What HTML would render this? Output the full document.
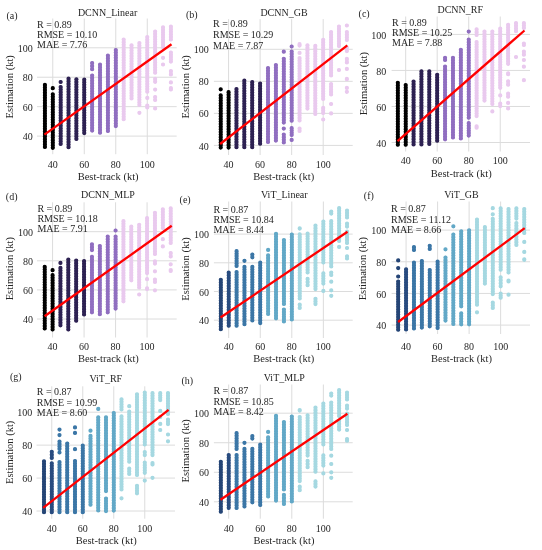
<!DOCTYPE html>
<html><head><meta charset="utf-8"><style>
html,body{margin:0;padding:0;background:#fff;}
svg{display:block;}
text{font-family:"Liberation Serif",serif;font-size:10px;}
</style></head><body>
<svg width="542" height="550" viewBox="0 0 542 550">
<defs><filter id="nolcd" x="0" y="0" width="542" height="550" filterUnits="userSpaceOnUse"><feOffset dx="0" dy="0"/></filter></defs>
<rect width="542" height="550" fill="#fff"/>
<path d="M52.77 18.5V154.2M84.28 18.5V154.2M115.78 18.5V154.2M147.28 18.5V154.2M37 136.1H176.7M37 106.67H176.7M37 77.23H176.7M37 47.8H176.7" stroke="#dcdcdc" stroke-width="1" fill="none"/>
<path d="M44.9 84.9V146.9" stroke="#000000" stroke-width="3.3" stroke-linecap="round" fill="none"/>
<path d="M44.9 84.9v0M44.9 87.48v0M44.9 90.07v0M44.9 92.65v0M44.9 95.23v0M44.9 97.82v0M44.9 100.4v0M44.9 102.98v0M44.9 105.57v0M44.9 108.15v0M44.9 110.73v0M44.9 113.32v0M44.9 115.9v0M44.9 118.48v0M44.9 121.07v0M44.9 123.65v0M44.9 126.23v0M44.9 128.82v0M44.9 131.4v0M44.9 133.98v0M44.9 136.57v0M44.9 139.15v0M44.9 141.73v0M44.9 144.32v0M44.9 146.9v0" stroke="#000000" stroke-width="4.2" stroke-linecap="round" fill="none"/>
<path d="M52.77 88.2V88.21M52.77 94.3V147.8" stroke="#000000" stroke-width="3.3" stroke-linecap="round" fill="none"/>
<path d="M52.77 88.2v0M52.77 88.2v0M52.77 94.3v0M52.77 96.85v0M52.77 99.4v0M52.77 101.94v0M52.77 104.49v0M52.77 107.04v0M52.77 109.59v0M52.77 112.13v0M52.77 114.68v0M52.77 117.23v0M52.77 119.78v0M52.77 122.32v0M52.77 124.87v0M52.77 127.42v0M52.77 129.97v0M52.77 132.51v0M52.77 135.06v0M52.77 137.61v0M52.77 140.16v0M52.77 142.7v0M52.77 145.25v0M52.77 147.8v0" stroke="#000000" stroke-width="4.2" stroke-linecap="round" fill="none"/>
<path d="M60.65 82V82.01M60.65 87V143.9" stroke="#2d2152" stroke-width="3.3" stroke-linecap="round" fill="none"/>
<path d="M60.65 82v0M60.65 82v0M60.65 87v0M60.65 89.59v0M60.65 92.17v0M60.65 94.76v0M60.65 97.35v0M60.65 99.93v0M60.65 102.52v0M60.65 105.1v0M60.65 107.69v0M60.65 110.28v0M60.65 112.86v0M60.65 115.45v0M60.65 118.04v0M60.65 120.62v0M60.65 123.21v0M60.65 125.8v0M60.65 128.38v0M60.65 130.97v0M60.65 133.55v0M60.65 136.14v0M60.65 138.73v0M60.65 141.31v0M60.65 143.9v0" stroke="#2d2152" stroke-width="4.2" stroke-linecap="round" fill="none"/>
<path d="M68.53 78.7V147.2" stroke="#2d2152" stroke-width="3.3" stroke-linecap="round" fill="none"/>
<path d="M68.53 78.7v0M68.53 81.33v0M68.53 83.97v0M68.53 86.6v0M68.53 89.24v0M68.53 91.87v0M68.53 94.51v0M68.53 97.14v0M68.53 99.78v0M68.53 102.41v0M68.53 105.05v0M68.53 107.68v0M68.53 110.32v0M68.53 112.95v0M68.53 115.58v0M68.53 118.22v0M68.53 120.85v0M68.53 123.49v0M68.53 126.12v0M68.53 128.76v0M68.53 131.39v0M68.53 134.03v0M68.53 136.66v0M68.53 139.3v0M68.53 141.93v0M68.53 144.57v0M68.53 147.2v0" stroke="#2d2152" stroke-width="4.2" stroke-linecap="round" fill="none"/>
<path d="M76.4 79.3V138.9" stroke="#2d2152" stroke-width="3.3" stroke-linecap="round" fill="none"/>
<path d="M76.4 79.3v0M76.4 81.89v0M76.4 84.48v0M76.4 87.07v0M76.4 89.67v0M76.4 92.26v0M76.4 94.85v0M76.4 97.44v0M76.4 100.03v0M76.4 102.62v0M76.4 105.21v0M76.4 107.8v0M76.4 110.4v0M76.4 112.99v0M76.4 115.58v0M76.4 118.17v0M76.4 120.76v0M76.4 123.35v0M76.4 125.94v0M76.4 128.53v0M76.4 131.13v0M76.4 133.72v0M76.4 136.31v0M76.4 138.9v0" stroke="#2d2152" stroke-width="4.2" stroke-linecap="round" fill="none"/>
<path d="M84.28 79.7V133.1" stroke="#2d2152" stroke-width="3.3" stroke-linecap="round" fill="none"/>
<path d="M84.28 79.7v0M84.28 82.24v0M84.28 84.79v0M84.28 87.33v0M84.28 89.87v0M84.28 92.41v0M84.28 94.96v0M84.28 97.5v0M84.28 100.04v0M84.28 102.59v0M84.28 105.13v0M84.28 107.67v0M84.28 110.21v0M84.28 112.76v0M84.28 115.3v0M84.28 117.84v0M84.28 120.39v0M84.28 122.93v0M84.28 125.47v0M84.28 128.01v0M84.28 130.56v0M84.28 133.1v0" stroke="#2d2152" stroke-width="4.2" stroke-linecap="round" fill="none"/>
<path d="M92.15 63V69.2M92.15 75.5V130.6" stroke="#906ec0" stroke-width="3.3" stroke-linecap="round" fill="none"/>
<path d="M92.15 63v0M92.15 66.1v0M92.15 69.2v0M92.15 75.5v0M92.15 78.12v0M92.15 80.75v0M92.15 83.37v0M92.15 86v0M92.15 88.62v0M92.15 91.24v0M92.15 93.87v0M92.15 96.49v0M92.15 99.11v0M92.15 101.74v0M92.15 104.36v0M92.15 106.99v0M92.15 109.61v0M92.15 112.23v0M92.15 114.86v0M92.15 117.48v0M92.15 120.1v0M92.15 122.73v0M92.15 125.35v0M92.15 127.98v0M92.15 130.6v0" stroke="#906ec0" stroke-width="4.2" stroke-linecap="round" fill="none"/>
<path d="M100.03 64.7V132.7" stroke="#906ec0" stroke-width="3.3" stroke-linecap="round" fill="none"/>
<path d="M100.03 64.7v0M100.03 67.32v0M100.03 69.93v0M100.03 72.55v0M100.03 75.16v0M100.03 77.78v0M100.03 80.39v0M100.03 83.01v0M100.03 85.62v0M100.03 88.24v0M100.03 90.85v0M100.03 93.47v0M100.03 96.08v0M100.03 98.7v0M100.03 101.32v0M100.03 103.93v0M100.03 106.55v0M100.03 109.16v0M100.03 111.78v0M100.03 114.39v0M100.03 117.01v0M100.03 119.62v0M100.03 122.24v0M100.03 124.85v0M100.03 127.47v0M100.03 130.08v0M100.03 132.7v0" stroke="#906ec0" stroke-width="4.2" stroke-linecap="round" fill="none"/>
<path d="M107.9 55.7V131" stroke="#906ec0" stroke-width="3.3" stroke-linecap="round" fill="none"/>
<path d="M107.9 55.7v0M107.9 58.3v0M107.9 60.89v0M107.9 63.49v0M107.9 66.09v0M107.9 68.68v0M107.9 71.28v0M107.9 73.88v0M107.9 76.47v0M107.9 79.07v0M107.9 81.67v0M107.9 84.26v0M107.9 86.86v0M107.9 89.46v0M107.9 92.05v0M107.9 94.65v0M107.9 97.24v0M107.9 99.84v0M107.9 102.44v0M107.9 105.03v0M107.9 107.63v0M107.9 110.23v0M107.9 112.82v0M107.9 115.42v0M107.9 118.02v0M107.9 120.61v0M107.9 123.21v0M107.9 125.81v0M107.9 128.4v0M107.9 131v0" stroke="#906ec0" stroke-width="4.2" stroke-linecap="round" fill="none"/>
<path d="M115.78 50V126.1" stroke="#906ec0" stroke-width="3.3" stroke-linecap="round" fill="none"/>
<path d="M115.78 50v0M115.78 52.62v0M115.78 55.25v0M115.78 57.87v0M115.78 60.5v0M115.78 63.12v0M115.78 65.74v0M115.78 68.37v0M115.78 70.99v0M115.78 73.62v0M115.78 76.24v0M115.78 78.87v0M115.78 81.49v0M115.78 84.11v0M115.78 86.74v0M115.78 89.36v0M115.78 91.99v0M115.78 94.61v0M115.78 97.23v0M115.78 99.86v0M115.78 102.48v0M115.78 105.11v0M115.78 107.73v0M115.78 110.36v0M115.78 112.98v0M115.78 115.6v0M115.78 118.23v0M115.78 120.85v0M115.78 123.48v0M115.78 126.1v0" stroke="#906ec0" stroke-width="4.2" stroke-linecap="round" fill="none"/>
<path d="M123.65 39.6V119.2" stroke="#e9c9ee" stroke-width="3.3" stroke-linecap="round" fill="none"/>
<path d="M123.65 39.6v0M123.65 42.17v0M123.65 44.74v0M123.65 47.3v0M123.65 49.87v0M123.65 52.44v0M123.65 55.01v0M123.65 57.57v0M123.65 60.14v0M123.65 62.71v0M123.65 65.28v0M123.65 67.85v0M123.65 70.41v0M123.65 72.98v0M123.65 75.55v0M123.65 78.12v0M123.65 80.68v0M123.65 83.25v0M123.65 85.82v0M123.65 88.39v0M123.65 90.95v0M123.65 93.52v0M123.65 96.09v0M123.65 98.66v0M123.65 101.23v0M123.65 103.79v0M123.65 106.36v0M123.65 108.93v0M123.65 111.5v0M123.65 114.06v0M123.65 116.63v0M123.65 119.2v0" stroke="#e9c9ee" stroke-width="4.2" stroke-linecap="round" fill="none"/>
<path d="M131.53 45.3V98.4" stroke="#e9c9ee" stroke-width="3.3" stroke-linecap="round" fill="none"/>
<path d="M131.53 45.3v0M131.53 47.96v0M131.53 50.61v0M131.53 53.27v0M131.53 55.92v0M131.53 58.58v0M131.53 61.23v0M131.53 63.89v0M131.53 66.54v0M131.53 69.2v0M131.53 71.85v0M131.53 74.51v0M131.53 77.16v0M131.53 79.81v0M131.53 82.47v0M131.53 85.12v0M131.53 87.78v0M131.53 90.44v0M131.53 93.09v0M131.53 95.75v0M131.53 98.4v0" stroke="#e9c9ee" stroke-width="4.2" stroke-linecap="round" fill="none"/>
<path d="M139.4 43.1V105M139.4 112.8V112.81" stroke="#e9c9ee" stroke-width="3.3" stroke-linecap="round" fill="none"/>
<path d="M139.4 43.1v0M139.4 45.68v0M139.4 48.26v0M139.4 50.84v0M139.4 53.42v0M139.4 56v0M139.4 58.58v0M139.4 61.15v0M139.4 63.73v0M139.4 66.31v0M139.4 68.89v0M139.4 71.47v0M139.4 74.05v0M139.4 76.63v0M139.4 79.21v0M139.4 81.79v0M139.4 84.37v0M139.4 86.95v0M139.4 89.53v0M139.4 92.1v0M139.4 94.68v0M139.4 97.26v0M139.4 99.84v0M139.4 102.42v0M139.4 105v0M139.4 112.8v0M139.4 112.8v0" stroke="#e9c9ee" stroke-width="4.2" stroke-linecap="round" fill="none"/>
<path d="M147.28 37.1V91.7M147.28 97.9V97.91M147.28 105.6V107.4" stroke="#e9c9ee" stroke-width="3.3" stroke-linecap="round" fill="none"/>
<path d="M147.28 37.1v0M147.28 39.7v0M147.28 42.3v0M147.28 44.9v0M147.28 47.5v0M147.28 50.1v0M147.28 52.7v0M147.28 55.3v0M147.28 57.9v0M147.28 60.5v0M147.28 63.1v0M147.28 65.7v0M147.28 68.3v0M147.28 70.9v0M147.28 73.5v0M147.28 76.1v0M147.28 78.7v0M147.28 81.3v0M147.28 83.9v0M147.28 86.5v0M147.28 89.1v0M147.28 91.7v0M147.28 97.9v0M147.28 97.9v0M147.28 105.6v0M147.28 107.4v0" stroke="#e9c9ee" stroke-width="4.2" stroke-linecap="round" fill="none"/>
<path d="M155.15 31.5V72.7M155.15 78.9V81.8M155.15 89.6V89.61M155.15 97V100M155.15 108.4V108.41" stroke="#e9c9ee" stroke-width="3.3" stroke-linecap="round" fill="none"/>
<path d="M155.15 31.5v0M155.15 34.08v0M155.15 36.65v0M155.15 39.23v0M155.15 41.8v0M155.15 44.38v0M155.15 46.95v0M155.15 49.53v0M155.15 52.1v0M155.15 54.67v0M155.15 57.25v0M155.15 59.83v0M155.15 62.4v0M155.15 64.97v0M155.15 67.55v0M155.15 70.12v0M155.15 72.7v0M155.15 78.9v0M155.15 81.8v0M155.15 89.6v0M155.15 89.6v0M155.15 97v0M155.15 100v0M155.15 108.4v0M155.15 108.4v0" stroke="#e9c9ee" stroke-width="4.2" stroke-linecap="round" fill="none"/>
<path d="M163.03 27.4V47.2M163.03 57.8V57.81M163.03 64.5V64.51" stroke="#e9c9ee" stroke-width="3.3" stroke-linecap="round" fill="none"/>
<path d="M163.03 27.4v0M163.03 29.88v0M163.03 32.35v0M163.03 34.83v0M163.03 37.3v0M163.03 39.77v0M163.03 42.25v0M163.03 44.72v0M163.03 47.2v0M163.03 57.8v0M163.03 57.8v0M163.03 64.5v0M163.03 64.5v0" stroke="#e9c9ee" stroke-width="4.2" stroke-linecap="round" fill="none"/>
<path d="M170.9 26.7V39.5M170.9 52.5V61.6M170.9 71.1V74.4M170.9 82.4V82.41M170.9 88.2V89.5" stroke="#e9c9ee" stroke-width="3.3" stroke-linecap="round" fill="none"/>
<path d="M170.9 26.7v0M170.9 29.26v0M170.9 31.82v0M170.9 34.38v0M170.9 36.94v0M170.9 39.5v0M170.9 52.5v0M170.9 54.77v0M170.9 57.05v0M170.9 59.33v0M170.9 61.6v0M170.9 71.1v0M170.9 74.4v0M170.9 82.4v0M170.9 82.4v0M170.9 88.2v0M170.9 89.5v0" stroke="#e9c9ee" stroke-width="4.2" stroke-linecap="round" fill="none"/>
<line x1="44.4" y1="134.6" x2="171.5" y2="44.3" stroke="#ff0000" stroke-width="2.3"/>
<g fill="#262626" filter="url(#nolcd)"><text x="6.5" y="19.4">(a)</text><text x="107.6" y="16.3" text-anchor="middle">DCNN_Linear</text><text x="37" y="27.6">R = 0.89</text><text x="37" y="37.7">RMSE = 10.10</text><text x="37" y="47.8">MAE = 7.76</text><text x="32.8" y="140.2" text-anchor="end">40</text><text x="32.8" y="110.77" text-anchor="end">60</text><text x="32.8" y="81.33" text-anchor="end">80</text><text x="32.8" y="51.9" text-anchor="end">100</text><text x="52.77" y="168.2" text-anchor="middle">40</text><text x="84.28" y="168.2" text-anchor="middle">60</text><text x="115.78" y="168.2" text-anchor="middle">80</text><text x="147.28" y="168.2" text-anchor="middle">100</text><text x="108.1" y="179.9" text-anchor="middle" style="font-size:10.5px">Best-track (kt)</text><text transform="translate(12.8 86.8) rotate(-90)" text-anchor="middle" style="font-size:10.5px">Estimation (kt)</text></g>
<path d="M228.58 19.1V155M260.12 19.1V155M291.66 19.1V155M323.2 19.1V155M213.9 145.4H352.7M213.9 113.37H352.7M213.9 81.33H352.7M213.9 49.3H352.7" stroke="#dcdcdc" stroke-width="1" fill="none"/>
<path d="M220.7 89.3V89.31M220.7 95.4V147.6" stroke="#000000" stroke-width="3.3" stroke-linecap="round" fill="none"/>
<path d="M220.7 89.3v0M220.7 89.3v0M220.7 95.4v0M220.7 98.01v0M220.7 100.62v0M220.7 103.23v0M220.7 105.84v0M220.7 108.45v0M220.7 111.06v0M220.7 113.67v0M220.7 116.28v0M220.7 118.89v0M220.7 121.5v0M220.7 124.11v0M220.7 126.72v0M220.7 129.33v0M220.7 131.94v0M220.7 134.55v0M220.7 137.16v0M220.7 139.77v0M220.7 142.38v0M220.7 144.99v0M220.7 147.6v0" stroke="#000000" stroke-width="4.2" stroke-linecap="round" fill="none"/>
<path d="M228.58 92.2V147.6" stroke="#000000" stroke-width="3.3" stroke-linecap="round" fill="none"/>
<path d="M228.58 92.2v0M228.58 94.84v0M228.58 97.48v0M228.58 100.11v0M228.58 102.75v0M228.58 105.39v0M228.58 108.03v0M228.58 110.67v0M228.58 113.3v0M228.58 115.94v0M228.58 118.58v0M228.58 121.22v0M228.58 123.86v0M228.58 126.5v0M228.58 129.13v0M228.58 131.77v0M228.58 134.41v0M228.58 137.05v0M228.58 139.69v0M228.58 142.32v0M228.58 144.96v0M228.58 147.6v0" stroke="#000000" stroke-width="4.2" stroke-linecap="round" fill="none"/>
<path d="M236.47 89.1V147.2" stroke="#2d2152" stroke-width="3.3" stroke-linecap="round" fill="none"/>
<path d="M236.47 89.1v0M236.47 91.74v0M236.47 94.38v0M236.47 97.02v0M236.47 99.66v0M236.47 102.3v0M236.47 104.95v0M236.47 107.59v0M236.47 110.23v0M236.47 112.87v0M236.47 115.51v0M236.47 118.15v0M236.47 120.79v0M236.47 123.43v0M236.47 126.07v0M236.47 128.71v0M236.47 131.35v0M236.47 134v0M236.47 136.64v0M236.47 139.28v0M236.47 141.92v0M236.47 144.56v0M236.47 147.2v0" stroke="#2d2152" stroke-width="4.2" stroke-linecap="round" fill="none"/>
<path d="M244.35 80.7V147.2" stroke="#2d2152" stroke-width="3.3" stroke-linecap="round" fill="none"/>
<path d="M244.35 80.7v0M244.35 83.26v0M244.35 85.82v0M244.35 88.37v0M244.35 90.93v0M244.35 93.49v0M244.35 96.05v0M244.35 98.6v0M244.35 101.16v0M244.35 103.72v0M244.35 106.28v0M244.35 108.83v0M244.35 111.39v0M244.35 113.95v0M244.35 116.51v0M244.35 119.07v0M244.35 121.62v0M244.35 124.18v0M244.35 126.74v0M244.35 129.3v0M244.35 131.85v0M244.35 134.41v0M244.35 136.97v0M244.35 139.53v0M244.35 142.08v0M244.35 144.64v0M244.35 147.2v0" stroke="#2d2152" stroke-width="4.2" stroke-linecap="round" fill="none"/>
<path d="M252.24 82.2V147.2" stroke="#2d2152" stroke-width="3.3" stroke-linecap="round" fill="none"/>
<path d="M252.24 82.2v0M252.24 84.8v0M252.24 87.4v0M252.24 90v0M252.24 92.6v0M252.24 95.2v0M252.24 97.8v0M252.24 100.4v0M252.24 103v0M252.24 105.6v0M252.24 108.2v0M252.24 110.8v0M252.24 113.4v0M252.24 116v0M252.24 118.6v0M252.24 121.2v0M252.24 123.8v0M252.24 126.4v0M252.24 129v0M252.24 131.6v0M252.24 134.2v0M252.24 136.8v0M252.24 139.4v0M252.24 142v0M252.24 144.6v0M252.24 147.2v0" stroke="#2d2152" stroke-width="4.2" stroke-linecap="round" fill="none"/>
<path d="M260.12 83.5V143.7" stroke="#2d2152" stroke-width="3.3" stroke-linecap="round" fill="none"/>
<path d="M260.12 83.5v0M260.12 86.12v0M260.12 88.73v0M260.12 91.35v0M260.12 93.97v0M260.12 96.59v0M260.12 99.2v0M260.12 101.82v0M260.12 104.44v0M260.12 107.06v0M260.12 109.67v0M260.12 112.29v0M260.12 114.91v0M260.12 117.53v0M260.12 120.14v0M260.12 122.76v0M260.12 125.38v0M260.12 128v0M260.12 130.61v0M260.12 133.23v0M260.12 135.85v0M260.12 138.47v0M260.12 141.08v0M260.12 143.7v0" stroke="#2d2152" stroke-width="4.2" stroke-linecap="round" fill="none"/>
<path d="M268.01 68.2V142" stroke="#906ec0" stroke-width="3.3" stroke-linecap="round" fill="none"/>
<path d="M268.01 68.2v0M268.01 70.84v0M268.01 73.47v0M268.01 76.11v0M268.01 78.74v0M268.01 81.38v0M268.01 84.01v0M268.01 86.65v0M268.01 89.29v0M268.01 91.92v0M268.01 94.56v0M268.01 97.19v0M268.01 99.83v0M268.01 102.46v0M268.01 105.1v0M268.01 107.74v0M268.01 110.37v0M268.01 113.01v0M268.01 115.64v0M268.01 118.28v0M268.01 120.91v0M268.01 123.55v0M268.01 126.19v0M268.01 128.82v0M268.01 131.46v0M268.01 134.09v0M268.01 136.73v0M268.01 139.36v0M268.01 142v0" stroke="#906ec0" stroke-width="4.2" stroke-linecap="round" fill="none"/>
<path d="M275.89 65.1V140.6" stroke="#906ec0" stroke-width="3.3" stroke-linecap="round" fill="none"/>
<path d="M275.89 65.1v0M275.89 67.7v0M275.89 70.31v0M275.89 72.91v0M275.89 75.51v0M275.89 78.12v0M275.89 80.72v0M275.89 83.32v0M275.89 85.93v0M275.89 88.53v0M275.89 91.13v0M275.89 93.74v0M275.89 96.34v0M275.89 98.94v0M275.89 101.55v0M275.89 104.15v0M275.89 106.76v0M275.89 109.36v0M275.89 111.96v0M275.89 114.57v0M275.89 117.17v0M275.89 119.77v0M275.89 122.38v0M275.89 124.98v0M275.89 127.58v0M275.89 130.19v0M275.89 132.79v0M275.89 135.39v0M275.89 138v0M275.89 140.6v0" stroke="#906ec0" stroke-width="4.2" stroke-linecap="round" fill="none"/>
<path d="M283.78 51.7V51.71M283.78 58.8V122.6M283.78 128.6V128.61M283.78 134.6V142.4" stroke="#906ec0" stroke-width="3.3" stroke-linecap="round" fill="none"/>
<path d="M283.78 51.7v0M283.78 51.7v0M283.78 58.8v0M283.78 61.35v0M283.78 63.9v0M283.78 66.46v0M283.78 69.01v0M283.78 71.56v0M283.78 74.11v0M283.78 76.66v0M283.78 79.22v0M283.78 81.77v0M283.78 84.32v0M283.78 86.87v0M283.78 89.42v0M283.78 91.98v0M283.78 94.53v0M283.78 97.08v0M283.78 99.63v0M283.78 102.18v0M283.78 104.74v0M283.78 107.29v0M283.78 109.84v0M283.78 112.39v0M283.78 114.94v0M283.78 117.5v0M283.78 120.05v0M283.78 122.6v0M283.78 128.6v0M283.78 128.6v0M283.78 134.6v0M283.78 137.2v0M283.78 139.8v0M283.78 142.4v0" stroke="#906ec0" stroke-width="4.2" stroke-linecap="round" fill="none"/>
<path d="M291.66 46.5V46.51M291.66 51.5V120.7M291.66 128.2V135M291.66 139.9V139.91" stroke="#906ec0" stroke-width="3.3" stroke-linecap="round" fill="none"/>
<path d="M291.66 46.5v0M291.66 46.5v0M291.66 51.5v0M291.66 54.06v0M291.66 56.63v0M291.66 59.19v0M291.66 61.75v0M291.66 64.31v0M291.66 66.88v0M291.66 69.44v0M291.66 72v0M291.66 74.57v0M291.66 77.13v0M291.66 79.69v0M291.66 82.26v0M291.66 84.82v0M291.66 87.38v0M291.66 89.94v0M291.66 92.51v0M291.66 95.07v0M291.66 97.63v0M291.66 100.2v0M291.66 102.76v0M291.66 105.32v0M291.66 107.89v0M291.66 110.45v0M291.66 113.01v0M291.66 115.57v0M291.66 118.14v0M291.66 120.7v0M291.66 128.2v0M291.66 130.47v0M291.66 132.73v0M291.66 135v0M291.66 139.9v0M291.66 139.9v0" stroke="#906ec0" stroke-width="4.2" stroke-linecap="round" fill="none"/>
<path d="M299.55 44.2V45.6M299.55 52.9V52.91M299.55 58.1V120.5M299.55 128.6V131" stroke="#e9c9ee" stroke-width="3.3" stroke-linecap="round" fill="none"/>
<path d="M299.55 44.2v0M299.55 45.6v0M299.55 52.9v0M299.55 52.9v0M299.55 58.1v0M299.55 60.7v0M299.55 63.3v0M299.55 65.9v0M299.55 68.5v0M299.55 71.1v0M299.55 73.7v0M299.55 76.3v0M299.55 78.9v0M299.55 81.5v0M299.55 84.1v0M299.55 86.7v0M299.55 89.3v0M299.55 91.9v0M299.55 94.5v0M299.55 97.1v0M299.55 99.7v0M299.55 102.3v0M299.55 104.9v0M299.55 107.5v0M299.55 110.1v0M299.55 112.7v0M299.55 115.3v0M299.55 117.9v0M299.55 120.5v0M299.55 128.6v0M299.55 131v0" stroke="#e9c9ee" stroke-width="4.2" stroke-linecap="round" fill="none"/>
<path d="M307.44 45.3V108.6" stroke="#e9c9ee" stroke-width="3.3" stroke-linecap="round" fill="none"/>
<path d="M307.44 45.3v0M307.44 47.94v0M307.44 50.58v0M307.44 53.21v0M307.44 55.85v0M307.44 58.49v0M307.44 61.13v0M307.44 63.76v0M307.44 66.4v0M307.44 69.04v0M307.44 71.68v0M307.44 74.31v0M307.44 76.95v0M307.44 79.59v0M307.44 82.23v0M307.44 84.86v0M307.44 87.5v0M307.44 90.14v0M307.44 92.78v0M307.44 95.41v0M307.44 98.05v0M307.44 100.69v0M307.44 103.33v0M307.44 105.96v0M307.44 108.6v0" stroke="#e9c9ee" stroke-width="4.2" stroke-linecap="round" fill="none"/>
<path d="M315.32 45.9V113.9" stroke="#e9c9ee" stroke-width="3.3" stroke-linecap="round" fill="none"/>
<path d="M315.32 45.9v0M315.32 48.52v0M315.32 51.13v0M315.32 53.75v0M315.32 56.36v0M315.32 58.98v0M315.32 61.59v0M315.32 64.21v0M315.32 66.82v0M315.32 69.44v0M315.32 72.05v0M315.32 74.67v0M315.32 77.28v0M315.32 79.9v0M315.32 82.52v0M315.32 85.13v0M315.32 87.75v0M315.32 90.36v0M315.32 92.98v0M315.32 95.59v0M315.32 98.21v0M315.32 100.82v0M315.32 103.44v0M315.32 106.05v0M315.32 108.67v0M315.32 111.28v0M315.32 113.9v0" stroke="#e9c9ee" stroke-width="4.2" stroke-linecap="round" fill="none"/>
<path d="M323.2 39.8V98.9M323.2 107.9V113M323.2 119.5V119.51" stroke="#e9c9ee" stroke-width="3.3" stroke-linecap="round" fill="none"/>
<path d="M323.2 39.8v0M323.2 42.37v0M323.2 44.94v0M323.2 47.51v0M323.2 50.08v0M323.2 52.65v0M323.2 55.22v0M323.2 57.79v0M323.2 60.36v0M323.2 62.93v0M323.2 65.5v0M323.2 68.07v0M323.2 70.63v0M323.2 73.2v0M323.2 75.77v0M323.2 78.34v0M323.2 80.91v0M323.2 83.48v0M323.2 86.05v0M323.2 88.62v0M323.2 91.19v0M323.2 93.76v0M323.2 96.33v0M323.2 98.9v0M323.2 107.9v0M323.2 110.45v0M323.2 113v0M323.2 119.5v0M323.2 119.5v0" stroke="#e9c9ee" stroke-width="4.2" stroke-linecap="round" fill="none"/>
<path d="M331.09 32.1V75.4M331.09 84.1V94.5M331.09 104V104.01M331.09 113.4V113.41" stroke="#e9c9ee" stroke-width="3.3" stroke-linecap="round" fill="none"/>
<path d="M331.09 32.1v0M331.09 34.65v0M331.09 37.19v0M331.09 39.74v0M331.09 42.29v0M331.09 44.84v0M331.09 47.38v0M331.09 49.93v0M331.09 52.48v0M331.09 55.02v0M331.09 57.57v0M331.09 60.12v0M331.09 62.66v0M331.09 65.21v0M331.09 67.76v0M331.09 70.31v0M331.09 72.85v0M331.09 75.4v0M331.09 84.1v0M331.09 86.7v0M331.09 89.3v0M331.09 91.9v0M331.09 94.5v0M331.09 104v0M331.09 104v0M331.09 113.4v0M331.09 113.4v0" stroke="#e9c9ee" stroke-width="4.2" stroke-linecap="round" fill="none"/>
<path d="M338.97 26.5V46.1M338.97 70V70.01" stroke="#e9c9ee" stroke-width="3.3" stroke-linecap="round" fill="none"/>
<path d="M338.97 26.5v0M338.97 28.95v0M338.97 31.4v0M338.97 33.85v0M338.97 36.3v0M338.97 38.75v0M338.97 41.2v0M338.97 43.65v0M338.97 46.1v0M338.97 70v0M338.97 70v0" stroke="#e9c9ee" stroke-width="4.2" stroke-linecap="round" fill="none"/>
<path d="M346.86 25.5V25.51M346.86 32.1V40M346.86 47.6V51.1M346.86 58.9V62.4M346.86 68.9V68.91M346.86 78.9V79.2M346.86 87.9V87.91M346.86 91.8V91.81" stroke="#e9c9ee" stroke-width="3.3" stroke-linecap="round" fill="none"/>
<path d="M346.86 25.5v0M346.86 25.5v0M346.86 32.1v0M346.86 34.73v0M346.86 37.37v0M346.86 40v0M346.86 47.6v0M346.86 51.1v0M346.86 58.9v0M346.86 62.4v0M346.86 68.9v0M346.86 68.9v0M346.86 78.9v0M346.86 79.2v0M346.86 87.9v0M346.86 87.9v0M346.86 91.8v0M346.86 91.8v0" stroke="#e9c9ee" stroke-width="4.2" stroke-linecap="round" fill="none"/>
<line x1="220.1" y1="144" x2="347.3" y2="45.3" stroke="#ff0000" stroke-width="2.3"/>
<g fill="#262626" filter="url(#nolcd)"><text x="185.9" y="17.5">(b)</text><text x="284" y="16.4" text-anchor="middle">DCNN_GB</text><text x="213" y="26.8">R = 0.89</text><text x="213" y="37.7">RMSE = 10.29</text><text x="213" y="48.6">MAE = 7.87</text><text x="208.8" y="149.5" text-anchor="end">40</text><text x="208.8" y="117.47" text-anchor="end">60</text><text x="208.8" y="85.43" text-anchor="end">80</text><text x="208.8" y="53.4" text-anchor="end">100</text><text x="228.58" y="167.7" text-anchor="middle">40</text><text x="260.12" y="167.7" text-anchor="middle">60</text><text x="291.66" y="167.7" text-anchor="middle">80</text><text x="323.2" y="167.7" text-anchor="middle">100</text><text x="283.8" y="179.6" text-anchor="middle" style="font-size:10.5px">Best-track (kt)</text><text transform="translate(188.8 86.8) rotate(-90)" text-anchor="middle" style="font-size:10.5px">Estimation (kt)</text></g>
<path d="M405.68 16.5V151.5M437.2 16.5V151.5M468.72 16.5V151.5M500.24 16.5V151.5M391.6 142.5H530M391.6 106.47H530M391.6 70.43H530M391.6 34.4H530" stroke="#dcdcdc" stroke-width="1" fill="none"/>
<path d="M397.8 82.8V144.7" stroke="#000000" stroke-width="3.3" stroke-linecap="round" fill="none"/>
<path d="M397.8 82.8v0M397.8 85.38v0M397.8 87.96v0M397.8 90.54v0M397.8 93.12v0M397.8 95.7v0M397.8 98.28v0M397.8 100.85v0M397.8 103.43v0M397.8 106.01v0M397.8 108.59v0M397.8 111.17v0M397.8 113.75v0M397.8 116.33v0M397.8 118.91v0M397.8 121.49v0M397.8 124.07v0M397.8 126.65v0M397.8 129.23v0M397.8 131.8v0M397.8 134.38v0M397.8 136.96v0M397.8 139.54v0M397.8 142.12v0M397.8 144.7v0" stroke="#000000" stroke-width="4.2" stroke-linecap="round" fill="none"/>
<path d="M405.68 85.1V144.7" stroke="#000000" stroke-width="3.3" stroke-linecap="round" fill="none"/>
<path d="M405.68 85.1v0M405.68 87.69v0M405.68 90.28v0M405.68 92.87v0M405.68 95.47v0M405.68 98.06v0M405.68 100.65v0M405.68 103.24v0M405.68 105.83v0M405.68 108.42v0M405.68 111.01v0M405.68 113.6v0M405.68 116.2v0M405.68 118.79v0M405.68 121.38v0M405.68 123.97v0M405.68 126.56v0M405.68 129.15v0M405.68 131.74v0M405.68 134.33v0M405.68 136.93v0M405.68 139.52v0M405.68 142.11v0M405.68 144.7v0" stroke="#000000" stroke-width="4.2" stroke-linecap="round" fill="none"/>
<path d="M413.56 81.6V144.4" stroke="#2d2152" stroke-width="3.3" stroke-linecap="round" fill="none"/>
<path d="M413.56 81.6v0M413.56 84.22v0M413.56 86.83v0M413.56 89.45v0M413.56 92.07v0M413.56 94.68v0M413.56 97.3v0M413.56 99.92v0M413.56 102.53v0M413.56 105.15v0M413.56 107.77v0M413.56 110.38v0M413.56 113v0M413.56 115.62v0M413.56 118.23v0M413.56 120.85v0M413.56 123.47v0M413.56 126.08v0M413.56 128.7v0M413.56 131.32v0M413.56 133.93v0M413.56 136.55v0M413.56 139.17v0M413.56 141.78v0M413.56 144.4v0" stroke="#2d2152" stroke-width="4.2" stroke-linecap="round" fill="none"/>
<path d="M421.44 71.4V144.4" stroke="#2d2152" stroke-width="3.3" stroke-linecap="round" fill="none"/>
<path d="M421.44 71.4v0M421.44 74.01v0M421.44 76.61v0M421.44 79.22v0M421.44 81.83v0M421.44 84.44v0M421.44 87.04v0M421.44 89.65v0M421.44 92.26v0M421.44 94.86v0M421.44 97.47v0M421.44 100.08v0M421.44 102.69v0M421.44 105.29v0M421.44 107.9v0M421.44 110.51v0M421.44 113.11v0M421.44 115.72v0M421.44 118.33v0M421.44 120.94v0M421.44 123.54v0M421.44 126.15v0M421.44 128.76v0M421.44 131.36v0M421.44 133.97v0M421.44 136.58v0M421.44 139.19v0M421.44 141.79v0M421.44 144.4v0" stroke="#2d2152" stroke-width="4.2" stroke-linecap="round" fill="none"/>
<path d="M429.32 71.4V143.9" stroke="#2d2152" stroke-width="3.3" stroke-linecap="round" fill="none"/>
<path d="M429.32 71.4v0M429.32 73.99v0M429.32 76.58v0M429.32 79.17v0M429.32 81.76v0M429.32 84.35v0M429.32 86.94v0M429.32 89.52v0M429.32 92.11v0M429.32 94.7v0M429.32 97.29v0M429.32 99.88v0M429.32 102.47v0M429.32 105.06v0M429.32 107.65v0M429.32 110.24v0M429.32 112.83v0M429.32 115.42v0M429.32 118.01v0M429.32 120.6v0M429.32 123.19v0M429.32 125.78v0M429.32 128.36v0M429.32 130.95v0M429.32 133.54v0M429.32 136.13v0M429.32 138.72v0M429.32 141.31v0M429.32 143.9v0" stroke="#2d2152" stroke-width="4.2" stroke-linecap="round" fill="none"/>
<path d="M437.2 74.8V140.7" stroke="#2d2152" stroke-width="3.3" stroke-linecap="round" fill="none"/>
<path d="M437.2 74.8v0M437.2 77.44v0M437.2 80.07v0M437.2 82.71v0M437.2 85.34v0M437.2 87.98v0M437.2 90.62v0M437.2 93.25v0M437.2 95.89v0M437.2 98.52v0M437.2 101.16v0M437.2 103.8v0M437.2 106.43v0M437.2 109.07v0M437.2 111.7v0M437.2 114.34v0M437.2 116.98v0M437.2 119.61v0M437.2 122.25v0M437.2 124.88v0M437.2 127.52v0M437.2 130.16v0M437.2 132.79v0M437.2 135.43v0M437.2 138.06v0M437.2 140.7v0" stroke="#2d2152" stroke-width="4.2" stroke-linecap="round" fill="none"/>
<path d="M445.08 57.8V59.9M445.08 66.6V139.3" stroke="#906ec0" stroke-width="3.3" stroke-linecap="round" fill="none"/>
<path d="M445.08 57.8v0M445.08 59.9v0M445.08 66.6v0M445.08 69.2v0M445.08 71.79v0M445.08 74.39v0M445.08 76.99v0M445.08 79.58v0M445.08 82.18v0M445.08 84.78v0M445.08 87.37v0M445.08 89.97v0M445.08 92.56v0M445.08 95.16v0M445.08 97.76v0M445.08 100.35v0M445.08 102.95v0M445.08 105.55v0M445.08 108.14v0M445.08 110.74v0M445.08 113.34v0M445.08 115.93v0M445.08 118.53v0M445.08 121.12v0M445.08 123.72v0M445.08 126.32v0M445.08 128.91v0M445.08 131.51v0M445.08 134.11v0M445.08 136.7v0M445.08 139.3v0" stroke="#906ec0" stroke-width="4.2" stroke-linecap="round" fill="none"/>
<path d="M452.96 57.8V137.5" stroke="#906ec0" stroke-width="3.3" stroke-linecap="round" fill="none"/>
<path d="M452.96 57.8v0M452.96 60.37v0M452.96 62.94v0M452.96 65.51v0M452.96 68.08v0M452.96 70.65v0M452.96 73.23v0M452.96 75.8v0M452.96 78.37v0M452.96 80.94v0M452.96 83.51v0M452.96 86.08v0M452.96 88.65v0M452.96 91.22v0M452.96 93.79v0M452.96 96.36v0M452.96 98.94v0M452.96 101.51v0M452.96 104.08v0M452.96 106.65v0M452.96 109.22v0M452.96 111.79v0M452.96 114.36v0M452.96 116.93v0M452.96 119.5v0M452.96 122.07v0M452.96 124.65v0M452.96 127.22v0M452.96 129.79v0M452.96 132.36v0M452.96 134.93v0M452.96 137.5v0" stroke="#906ec0" stroke-width="4.2" stroke-linecap="round" fill="none"/>
<path d="M460.84 49.8V138.4" stroke="#906ec0" stroke-width="3.3" stroke-linecap="round" fill="none"/>
<path d="M460.84 49.8v0M460.84 52.41v0M460.84 55.01v0M460.84 57.62v0M460.84 60.22v0M460.84 62.83v0M460.84 65.44v0M460.84 68.04v0M460.84 70.65v0M460.84 73.25v0M460.84 75.86v0M460.84 78.46v0M460.84 81.07v0M460.84 83.68v0M460.84 86.28v0M460.84 88.89v0M460.84 91.49v0M460.84 94.1v0M460.84 96.71v0M460.84 99.31v0M460.84 101.92v0M460.84 104.52v0M460.84 107.13v0M460.84 109.74v0M460.84 112.34v0M460.84 114.95v0M460.84 117.55v0M460.84 120.16v0M460.84 122.76v0M460.84 125.37v0M460.84 127.98v0M460.84 130.58v0M460.84 133.19v0M460.84 135.79v0M460.84 138.4v0" stroke="#906ec0" stroke-width="4.2" stroke-linecap="round" fill="none"/>
<path d="M468.72 31.6V31.61M468.72 39.6V117.7M468.72 123.2V135.6" stroke="#906ec0" stroke-width="3.3" stroke-linecap="round" fill="none"/>
<path d="M468.72 31.6v0M468.72 31.6v0M468.72 39.6v0M468.72 42.2v0M468.72 44.81v0M468.72 47.41v0M468.72 50.01v0M468.72 52.62v0M468.72 55.22v0M468.72 57.82v0M468.72 60.43v0M468.72 63.03v0M468.72 65.63v0M468.72 68.24v0M468.72 70.84v0M468.72 73.44v0M468.72 76.05v0M468.72 78.65v0M468.72 81.25v0M468.72 83.86v0M468.72 86.46v0M468.72 89.06v0M468.72 91.67v0M468.72 94.27v0M468.72 96.87v0M468.72 99.48v0M468.72 102.08v0M468.72 104.68v0M468.72 107.29v0M468.72 109.89v0M468.72 112.49v0M468.72 115.1v0M468.72 117.7v0M468.72 123.2v0M468.72 125.68v0M468.72 128.16v0M468.72 130.64v0M468.72 133.12v0M468.72 135.6v0" stroke="#906ec0" stroke-width="4.2" stroke-linecap="round" fill="none"/>
<path d="M476.6 29.3V35M476.6 42V116.1M476.6 126.3V127.7" stroke="#e9c9ee" stroke-width="3.3" stroke-linecap="round" fill="none"/>
<path d="M476.6 29.3v0M476.6 32.15v0M476.6 35v0M476.6 42v0M476.6 44.56v0M476.6 47.11v0M476.6 49.67v0M476.6 52.22v0M476.6 54.78v0M476.6 57.33v0M476.6 59.89v0M476.6 62.44v0M476.6 65v0M476.6 67.55v0M476.6 70.11v0M476.6 72.66v0M476.6 75.22v0M476.6 77.77v0M476.6 80.33v0M476.6 82.88v0M476.6 85.44v0M476.6 87.99v0M476.6 90.55v0M476.6 93.1v0M476.6 95.66v0M476.6 98.21v0M476.6 100.77v0M476.6 103.32v0M476.6 105.88v0M476.6 108.43v0M476.6 110.99v0M476.6 113.54v0M476.6 116.1v0M476.6 126.3v0M476.6 127.7v0" stroke="#e9c9ee" stroke-width="4.2" stroke-linecap="round" fill="none"/>
<path d="M484.48 31.5V100.6" stroke="#e9c9ee" stroke-width="3.3" stroke-linecap="round" fill="none"/>
<path d="M484.48 31.5v0M484.48 34.06v0M484.48 36.62v0M484.48 39.18v0M484.48 41.74v0M484.48 44.3v0M484.48 46.86v0M484.48 49.41v0M484.48 51.97v0M484.48 54.53v0M484.48 57.09v0M484.48 59.65v0M484.48 62.21v0M484.48 64.77v0M484.48 67.33v0M484.48 69.89v0M484.48 72.45v0M484.48 75.01v0M484.48 77.57v0M484.48 80.13v0M484.48 82.69v0M484.48 85.24v0M484.48 87.8v0M484.48 90.36v0M484.48 92.92v0M484.48 95.48v0M484.48 98.04v0M484.48 100.6v0" stroke="#e9c9ee" stroke-width="4.2" stroke-linecap="round" fill="none"/>
<path d="M492.36 31.5V103.9M492.36 111.4V111.41" stroke="#e9c9ee" stroke-width="3.3" stroke-linecap="round" fill="none"/>
<path d="M492.36 31.5v0M492.36 34.09v0M492.36 36.67v0M492.36 39.26v0M492.36 41.84v0M492.36 44.43v0M492.36 47.01v0M492.36 49.6v0M492.36 52.19v0M492.36 54.77v0M492.36 57.36v0M492.36 59.94v0M492.36 62.53v0M492.36 65.11v0M492.36 67.7v0M492.36 70.29v0M492.36 72.87v0M492.36 75.46v0M492.36 78.04v0M492.36 80.63v0M492.36 83.21v0M492.36 85.8v0M492.36 88.39v0M492.36 90.97v0M492.36 93.56v0M492.36 96.14v0M492.36 98.73v0M492.36 101.31v0M492.36 103.9v0M492.36 111.4v0M492.36 111.4v0" stroke="#e9c9ee" stroke-width="4.2" stroke-linecap="round" fill="none"/>
<path d="M500.24 28.7V87.8M500.24 95.4V95.41M500.24 103.7V106.1" stroke="#e9c9ee" stroke-width="3.3" stroke-linecap="round" fill="none"/>
<path d="M500.24 28.7v0M500.24 31.27v0M500.24 33.84v0M500.24 36.41v0M500.24 38.98v0M500.24 41.55v0M500.24 44.12v0M500.24 46.69v0M500.24 49.26v0M500.24 51.83v0M500.24 54.4v0M500.24 56.97v0M500.24 59.53v0M500.24 62.1v0M500.24 64.67v0M500.24 67.24v0M500.24 69.81v0M500.24 72.38v0M500.24 74.95v0M500.24 77.52v0M500.24 80.09v0M500.24 82.66v0M500.24 85.23v0M500.24 87.8v0M500.24 95.4v0M500.24 95.4v0M500.24 103.7v0M500.24 106.1v0" stroke="#e9c9ee" stroke-width="4.2" stroke-linecap="round" fill="none"/>
<path d="M508.12 24.8V63.8M508.12 73.3V74.2M508.12 81.3V84.7M508.12 93.7V96.7M508.12 102.9V102.91M508.12 108.4V108.41" stroke="#e9c9ee" stroke-width="3.3" stroke-linecap="round" fill="none"/>
<path d="M508.12 24.8v0M508.12 27.4v0M508.12 30v0M508.12 32.6v0M508.12 35.2v0M508.12 37.8v0M508.12 40.4v0M508.12 43v0M508.12 45.6v0M508.12 48.2v0M508.12 50.8v0M508.12 53.4v0M508.12 56v0M508.12 58.6v0M508.12 61.2v0M508.12 63.8v0M508.12 73.3v0M508.12 74.2v0M508.12 81.3v0M508.12 84.7v0M508.12 93.7v0M508.12 96.7v0M508.12 102.9v0M508.12 102.9v0M508.12 108.4v0M508.12 108.4v0" stroke="#e9c9ee" stroke-width="4.2" stroke-linecap="round" fill="none"/>
<path d="M516 23.2V31.2M516 57V57.01" stroke="#e9c9ee" stroke-width="3.3" stroke-linecap="round" fill="none"/>
<path d="M516 23.2v0M516 25.87v0M516 28.53v0M516 31.2v0M516 57v0M516 57v0" stroke="#e9c9ee" stroke-width="4.2" stroke-linecap="round" fill="none"/>
<path d="M523.88 23.2V27.9M523.88 43.7V45M523.88 51.7V54.7M523.88 60V60.01M523.88 66.7V66.71M523.88 80.2V80.21" stroke="#e9c9ee" stroke-width="3.3" stroke-linecap="round" fill="none"/>
<path d="M523.88 23.2v0M523.88 25.55v0M523.88 27.9v0M523.88 43.7v0M523.88 45v0M523.88 51.7v0M523.88 54.7v0M523.88 60v0M523.88 60v0M523.88 66.7v0M523.88 66.7v0M523.88 80.2v0M523.88 80.2v0" stroke="#e9c9ee" stroke-width="4.2" stroke-linecap="round" fill="none"/>
<line x1="397.5" y1="141.1" x2="524.5" y2="30.5" stroke="#ff0000" stroke-width="2.3"/>
<g fill="#262626" filter="url(#nolcd)"><text x="358.6" y="17.3">(c)</text><text x="460.2" y="13.35" text-anchor="middle">DCNN_RF</text><text x="392" y="26.1">R = 0.89</text><text x="392" y="36.2">RMSE = 10.25</text><text x="392" y="46.3">MAE = 7.88</text><text x="386.3" y="146.6" text-anchor="end">40</text><text x="386.3" y="110.57" text-anchor="end">60</text><text x="386.3" y="74.53" text-anchor="end">80</text><text x="386.3" y="38.5" text-anchor="end">100</text><text x="405.68" y="164.4" text-anchor="middle">40</text><text x="437.2" y="164.4" text-anchor="middle">60</text><text x="468.72" y="164.4" text-anchor="middle">80</text><text x="500.24" y="164.4" text-anchor="middle">100</text><text x="461.2" y="176.6" text-anchor="middle" style="font-size:10.5px">Best-track (kt)</text><text transform="translate(366.5 83.7) rotate(-90)" text-anchor="middle" style="font-size:10.5px">Estimation (kt)</text></g>
<path d="M52.58 202.3V337.5M84.08 202.3V337.5M115.58 202.3V337.5M147.07 202.3V337.5M37 319H176.7M37 289.9H176.7M37 260.8H176.7M37 231.7H176.7" stroke="#dcdcdc" stroke-width="1" fill="none"/>
<path d="M44.7 266.9V328.5" stroke="#000000" stroke-width="3.3" stroke-linecap="round" fill="none"/>
<path d="M44.7 266.9v0M44.7 269.47v0M44.7 272.03v0M44.7 274.6v0M44.7 277.17v0M44.7 279.73v0M44.7 282.3v0M44.7 284.87v0M44.7 287.43v0M44.7 290v0M44.7 292.57v0M44.7 295.13v0M44.7 297.7v0M44.7 300.27v0M44.7 302.83v0M44.7 305.4v0M44.7 307.97v0M44.7 310.53v0M44.7 313.1v0M44.7 315.67v0M44.7 318.23v0M44.7 320.8v0M44.7 323.37v0M44.7 325.93v0M44.7 328.5v0" stroke="#000000" stroke-width="4.2" stroke-linecap="round" fill="none"/>
<path d="M52.58 270.2V270.21M52.58 275.2V329.5" stroke="#000000" stroke-width="3.3" stroke-linecap="round" fill="none"/>
<path d="M52.58 270.2v0M52.58 270.2v0M52.58 275.2v0M52.58 277.79v0M52.58 280.37v0M52.58 282.96v0M52.58 285.54v0M52.58 288.13v0M52.58 290.71v0M52.58 293.3v0M52.58 295.89v0M52.58 298.47v0M52.58 301.06v0M52.58 303.64v0M52.58 306.23v0M52.58 308.81v0M52.58 311.4v0M52.58 313.99v0M52.58 316.57v0M52.58 319.16v0M52.58 321.74v0M52.58 324.33v0M52.58 326.91v0M52.58 329.5v0" stroke="#000000" stroke-width="4.2" stroke-linecap="round" fill="none"/>
<path d="M60.45 262.9V262.91M60.45 267.9V325.3" stroke="#2d2152" stroke-width="3.3" stroke-linecap="round" fill="none"/>
<path d="M60.45 262.9v0M60.45 262.9v0M60.45 267.9v0M60.45 270.51v0M60.45 273.12v0M60.45 275.73v0M60.45 278.34v0M60.45 280.95v0M60.45 283.55v0M60.45 286.16v0M60.45 288.77v0M60.45 291.38v0M60.45 293.99v0M60.45 296.6v0M60.45 299.21v0M60.45 301.82v0M60.45 304.43v0M60.45 307.04v0M60.45 309.65v0M60.45 312.25v0M60.45 314.86v0M60.45 317.47v0M60.45 320.08v0M60.45 322.69v0M60.45 325.3v0" stroke="#2d2152" stroke-width="4.2" stroke-linecap="round" fill="none"/>
<path d="M68.33 259.6V329.5" stroke="#2d2152" stroke-width="3.3" stroke-linecap="round" fill="none"/>
<path d="M68.33 259.6v0M68.33 262.19v0M68.33 264.78v0M68.33 267.37v0M68.33 269.96v0M68.33 272.54v0M68.33 275.13v0M68.33 277.72v0M68.33 280.31v0M68.33 282.9v0M68.33 285.49v0M68.33 288.08v0M68.33 290.67v0M68.33 293.26v0M68.33 295.84v0M68.33 298.43v0M68.33 301.02v0M68.33 303.61v0M68.33 306.2v0M68.33 308.79v0M68.33 311.38v0M68.33 313.97v0M68.33 316.56v0M68.33 319.14v0M68.33 321.73v0M68.33 324.32v0M68.33 326.91v0M68.33 329.5v0" stroke="#2d2152" stroke-width="4.2" stroke-linecap="round" fill="none"/>
<path d="M76.2 260.6V320.7" stroke="#2d2152" stroke-width="3.3" stroke-linecap="round" fill="none"/>
<path d="M76.2 260.6v0M76.2 263.21v0M76.2 265.83v0M76.2 268.44v0M76.2 271.05v0M76.2 273.67v0M76.2 276.28v0M76.2 278.89v0M76.2 281.5v0M76.2 284.12v0M76.2 286.73v0M76.2 289.34v0M76.2 291.96v0M76.2 294.57v0M76.2 297.18v0M76.2 299.8v0M76.2 302.41v0M76.2 305.02v0M76.2 307.63v0M76.2 310.25v0M76.2 312.86v0M76.2 315.47v0M76.2 318.09v0M76.2 320.7v0" stroke="#2d2152" stroke-width="4.2" stroke-linecap="round" fill="none"/>
<path d="M84.08 261.2V314.5" stroke="#2d2152" stroke-width="3.3" stroke-linecap="round" fill="none"/>
<path d="M84.08 261.2v0M84.08 263.87v0M84.08 266.53v0M84.08 269.2v0M84.08 271.86v0M84.08 274.53v0M84.08 277.19v0M84.08 279.86v0M84.08 282.52v0M84.08 285.19v0M84.08 287.85v0M84.08 290.52v0M84.08 293.18v0M84.08 295.85v0M84.08 298.51v0M84.08 301.18v0M84.08 303.84v0M84.08 306.5v0M84.08 309.17v0M84.08 311.83v0M84.08 314.5v0" stroke="#2d2152" stroke-width="4.2" stroke-linecap="round" fill="none"/>
<path d="M91.95 244.3V250.1M91.95 256.8V312.3" stroke="#906ec0" stroke-width="3.3" stroke-linecap="round" fill="none"/>
<path d="M91.95 244.3v0M91.95 247.2v0M91.95 250.1v0M91.95 256.8v0M91.95 259.44v0M91.95 262.09v0M91.95 264.73v0M91.95 267.37v0M91.95 270.01v0M91.95 272.66v0M91.95 275.3v0M91.95 277.94v0M91.95 280.59v0M91.95 283.23v0M91.95 285.87v0M91.95 288.51v0M91.95 291.16v0M91.95 293.8v0M91.95 296.44v0M91.95 299.09v0M91.95 301.73v0M91.95 304.37v0M91.95 307.01v0M91.95 309.66v0M91.95 312.3v0" stroke="#906ec0" stroke-width="4.2" stroke-linecap="round" fill="none"/>
<path d="M99.83 246V314.2" stroke="#906ec0" stroke-width="3.3" stroke-linecap="round" fill="none"/>
<path d="M99.83 246v0M99.83 248.62v0M99.83 251.25v0M99.83 253.87v0M99.83 256.49v0M99.83 259.12v0M99.83 261.74v0M99.83 264.36v0M99.83 266.98v0M99.83 269.61v0M99.83 272.23v0M99.83 274.85v0M99.83 277.48v0M99.83 280.1v0M99.83 282.72v0M99.83 285.35v0M99.83 287.97v0M99.83 290.59v0M99.83 293.22v0M99.83 295.84v0M99.83 298.46v0M99.83 301.08v0M99.83 303.71v0M99.83 306.33v0M99.83 308.95v0M99.83 311.58v0M99.83 314.2v0" stroke="#906ec0" stroke-width="4.2" stroke-linecap="round" fill="none"/>
<path d="M107.7 236.6V312.3" stroke="#906ec0" stroke-width="3.3" stroke-linecap="round" fill="none"/>
<path d="M107.7 236.6v0M107.7 239.21v0M107.7 241.82v0M107.7 244.43v0M107.7 247.04v0M107.7 249.65v0M107.7 252.26v0M107.7 254.87v0M107.7 257.48v0M107.7 260.09v0M107.7 262.7v0M107.7 265.31v0M107.7 267.92v0M107.7 270.53v0M107.7 273.14v0M107.7 275.76v0M107.7 278.37v0M107.7 280.98v0M107.7 283.59v0M107.7 286.2v0M107.7 288.81v0M107.7 291.42v0M107.7 294.03v0M107.7 296.64v0M107.7 299.25v0M107.7 301.86v0M107.7 304.47v0M107.7 307.08v0M107.7 309.69v0M107.7 312.3v0" stroke="#906ec0" stroke-width="4.2" stroke-linecap="round" fill="none"/>
<path d="M115.58 230.5V230.51M115.58 236.6V308.6" stroke="#906ec0" stroke-width="3.3" stroke-linecap="round" fill="none"/>
<path d="M115.58 230.5v0M115.58 230.5v0M115.58 236.6v0M115.58 239.17v0M115.58 241.74v0M115.58 244.31v0M115.58 246.89v0M115.58 249.46v0M115.58 252.03v0M115.58 254.6v0M115.58 257.17v0M115.58 259.74v0M115.58 262.31v0M115.58 264.89v0M115.58 267.46v0M115.58 270.03v0M115.58 272.6v0M115.58 275.17v0M115.58 277.74v0M115.58 280.31v0M115.58 282.89v0M115.58 285.46v0M115.58 288.03v0M115.58 290.6v0M115.58 293.17v0M115.58 295.74v0M115.58 298.31v0M115.58 300.89v0M115.58 303.46v0M115.58 306.03v0M115.58 308.6v0" stroke="#906ec0" stroke-width="4.2" stroke-linecap="round" fill="none"/>
<path d="M123.45 221.2V301.3" stroke="#e9c9ee" stroke-width="3.3" stroke-linecap="round" fill="none"/>
<path d="M123.45 221.2v0M123.45 223.78v0M123.45 226.37v0M123.45 228.95v0M123.45 231.54v0M123.45 234.12v0M123.45 236.7v0M123.45 239.29v0M123.45 241.87v0M123.45 244.45v0M123.45 247.04v0M123.45 249.62v0M123.45 252.21v0M123.45 254.79v0M123.45 257.37v0M123.45 259.96v0M123.45 262.54v0M123.45 265.13v0M123.45 267.71v0M123.45 270.29v0M123.45 272.88v0M123.45 275.46v0M123.45 278.05v0M123.45 280.63v0M123.45 283.21v0M123.45 285.8v0M123.45 288.38v0M123.45 290.96v0M123.45 293.55v0M123.45 296.13v0M123.45 298.72v0M123.45 301.3v0" stroke="#e9c9ee" stroke-width="4.2" stroke-linecap="round" fill="none"/>
<path d="M131.32 226.7V280.3" stroke="#e9c9ee" stroke-width="3.3" stroke-linecap="round" fill="none"/>
<path d="M131.32 226.7v0M131.32 229.25v0M131.32 231.8v0M131.32 234.36v0M131.32 236.91v0M131.32 239.46v0M131.32 242.01v0M131.32 244.57v0M131.32 247.12v0M131.32 249.67v0M131.32 252.22v0M131.32 254.78v0M131.32 257.33v0M131.32 259.88v0M131.32 262.43v0M131.32 264.99v0M131.32 267.54v0M131.32 270.09v0M131.32 272.64v0M131.32 275.2v0M131.32 277.75v0M131.32 280.3v0" stroke="#e9c9ee" stroke-width="4.2" stroke-linecap="round" fill="none"/>
<path d="M139.2 224.8V287.5M139.2 294.5V294.51" stroke="#e9c9ee" stroke-width="3.3" stroke-linecap="round" fill="none"/>
<path d="M139.2 224.8v0M139.2 227.41v0M139.2 230.02v0M139.2 232.64v0M139.2 235.25v0M139.2 237.86v0M139.2 240.47v0M139.2 243.09v0M139.2 245.7v0M139.2 248.31v0M139.2 250.92v0M139.2 253.54v0M139.2 256.15v0M139.2 258.76v0M139.2 261.38v0M139.2 263.99v0M139.2 266.6v0M139.2 269.21v0M139.2 271.82v0M139.2 274.44v0M139.2 277.05v0M139.2 279.66v0M139.2 282.27v0M139.2 284.89v0M139.2 287.5v0M139.2 294.5v0M139.2 294.5v0" stroke="#e9c9ee" stroke-width="4.2" stroke-linecap="round" fill="none"/>
<path d="M147.07 218.2V273.1M147.07 279.2V279.21M147.07 288.3V289.1" stroke="#e9c9ee" stroke-width="3.3" stroke-linecap="round" fill="none"/>
<path d="M147.07 218.2v0M147.07 220.81v0M147.07 223.43v0M147.07 226.04v0M147.07 228.66v0M147.07 231.27v0M147.07 233.89v0M147.07 236.5v0M147.07 239.11v0M147.07 241.73v0M147.07 244.34v0M147.07 246.96v0M147.07 249.57v0M147.07 252.19v0M147.07 254.8v0M147.07 257.41v0M147.07 260.03v0M147.07 262.64v0M147.07 265.26v0M147.07 267.87v0M147.07 270.49v0M147.07 273.1v0M147.07 279.2v0M147.07 279.2v0M147.07 288.3v0M147.07 289.1v0" stroke="#e9c9ee" stroke-width="4.2" stroke-linecap="round" fill="none"/>
<path d="M154.95 212.8V254M154.95 261.3V263.6M154.95 271.3V271.31M154.95 279.5V281.9M154.95 290.3V290.31" stroke="#e9c9ee" stroke-width="3.3" stroke-linecap="round" fill="none"/>
<path d="M154.95 212.8v0M154.95 215.38v0M154.95 217.95v0M154.95 220.52v0M154.95 223.1v0M154.95 225.68v0M154.95 228.25v0M154.95 230.82v0M154.95 233.4v0M154.95 235.98v0M154.95 238.55v0M154.95 241.12v0M154.95 243.7v0M154.95 246.28v0M154.95 248.85v0M154.95 251.43v0M154.95 254v0M154.95 261.3v0M154.95 263.6v0M154.95 271.3v0M154.95 271.3v0M154.95 279.5v0M154.95 281.9v0M154.95 290.3v0M154.95 290.3v0" stroke="#e9c9ee" stroke-width="4.2" stroke-linecap="round" fill="none"/>
<path d="M162.82 209.3V228M162.82 239.2V239.21M162.82 246.4V246.41" stroke="#e9c9ee" stroke-width="3.3" stroke-linecap="round" fill="none"/>
<path d="M162.82 209.3v0M162.82 211.97v0M162.82 214.64v0M162.82 217.31v0M162.82 219.99v0M162.82 222.66v0M162.82 225.33v0M162.82 228v0M162.82 239.2v0M162.82 239.2v0M162.82 246.4v0M162.82 246.4v0" stroke="#e9c9ee" stroke-width="4.2" stroke-linecap="round" fill="none"/>
<path d="M170.7 208.4V243M170.7 253V256.5M170.7 264.3V264.31M170.7 270.1V270.9" stroke="#e9c9ee" stroke-width="3.3" stroke-linecap="round" fill="none"/>
<path d="M170.7 208.4v0M170.7 211.06v0M170.7 213.72v0M170.7 216.38v0M170.7 219.05v0M170.7 221.71v0M170.7 224.37v0M170.7 227.03v0M170.7 229.69v0M170.7 232.35v0M170.7 235.02v0M170.7 237.68v0M170.7 240.34v0M170.7 243v0M170.7 253v0M170.7 256.5v0M170.7 264.3v0M170.7 264.3v0M170.7 270.1v0M170.7 270.9v0" stroke="#e9c9ee" stroke-width="4.2" stroke-linecap="round" fill="none"/>
<line x1="44.6" y1="316.3" x2="171.7" y2="225.8" stroke="#ff0000" stroke-width="2.3"/>
<g fill="#262626" filter="url(#nolcd)"><text x="5.8" y="200.2">(d)</text><text x="107.9" y="198.4" text-anchor="middle">DCNN_MLP</text><text x="37.4" y="211.7">R = 0.89</text><text x="37.4" y="221.8">RMSE = 10.18</text><text x="37.4" y="231.9">MAE = 7.91</text><text x="33.1" y="323.1" text-anchor="end">40</text><text x="33.1" y="294" text-anchor="end">60</text><text x="33.1" y="264.9" text-anchor="end">80</text><text x="33.1" y="235.8" text-anchor="end">100</text><text x="52.58" y="349.7" text-anchor="middle">40</text><text x="84.08" y="349.7" text-anchor="middle">60</text><text x="115.58" y="349.7" text-anchor="middle">80</text><text x="147.07" y="349.7" text-anchor="middle">100</text><text x="108.4" y="361.5" text-anchor="middle" style="font-size:10.5px">Best-track (kt)</text><text transform="translate(12.8 268.7) rotate(-90)" text-anchor="middle" style="font-size:10.5px">Estimation (kt)</text></g>
<path d="M228.69 201.5V338M260.25 201.5V338M291.81 201.5V338M323.37 201.5V338M213.9 320.2H352.7M213.9 291.5H352.7M213.9 262.8H352.7M213.9 234.1H352.7" stroke="#dcdcdc" stroke-width="1" fill="none"/>
<path d="M220.8 279.8V329.2" stroke="#254576" stroke-width="3.3" stroke-linecap="round" fill="none"/>
<path d="M220.8 279.8v0M220.8 282.4v0M220.8 285v0M220.8 287.6v0M220.8 290.2v0M220.8 292.8v0M220.8 295.4v0M220.8 298v0M220.8 300.6v0M220.8 303.2v0M220.8 305.8v0M220.8 308.4v0M220.8 311v0M220.8 313.6v0M220.8 316.2v0M220.8 318.8v0M220.8 321.4v0M220.8 324v0M220.8 326.6v0M220.8 329.2v0" stroke="#254576" stroke-width="4.2" stroke-linecap="round" fill="none"/>
<path d="M228.69 272.7V325.7" stroke="#284b7f" stroke-width="3.3" stroke-linecap="round" fill="none"/>
<path d="M228.69 272.7v0M228.69 275.35v0M228.69 278v0M228.69 280.65v0M228.69 283.3v0M228.69 285.95v0M228.69 288.6v0M228.69 291.25v0M228.69 293.9v0M228.69 296.55v0M228.69 299.2v0M228.69 301.85v0M228.69 304.5v0M228.69 307.15v0M228.69 309.8v0M228.69 312.45v0M228.69 315.1v0M228.69 317.75v0M228.69 320.4v0M228.69 323.05v0M228.69 325.7v0" stroke="#284b7f" stroke-width="4.2" stroke-linecap="round" fill="none"/>
<path d="M236.58 251.2V265.9M236.58 272.1V325.7" stroke="#3b76a6" stroke-width="3.3" stroke-linecap="round" fill="none"/>
<path d="M236.58 251.2v0M236.58 253.65v0M236.58 256.1v0M236.58 258.55v0M236.58 261v0M236.58 263.45v0M236.58 265.9v0M236.58 272.1v0M236.58 274.65v0M236.58 277.2v0M236.58 279.76v0M236.58 282.31v0M236.58 284.86v0M236.58 287.41v0M236.58 289.97v0M236.58 292.52v0M236.58 295.07v0M236.58 297.62v0M236.58 300.18v0M236.58 302.73v0M236.58 305.28v0M236.58 307.83v0M236.58 310.39v0M236.58 312.94v0M236.58 315.49v0M236.58 318.04v0M236.58 320.6v0M236.58 323.15v0M236.58 325.7v0" stroke="#3b76a6" stroke-width="4.2" stroke-linecap="round" fill="none"/>
<path d="M244.47 260.8V260.81M244.47 266.9V324.2" stroke="#3b76a6" stroke-width="3.3" stroke-linecap="round" fill="none"/>
<path d="M244.47 260.8v0M244.47 260.8v0M244.47 266.9v0M244.47 269.5v0M244.47 272.11v0M244.47 274.71v0M244.47 277.32v0M244.47 279.92v0M244.47 282.53v0M244.47 285.13v0M244.47 287.74v0M244.47 290.34v0M244.47 292.95v0M244.47 295.55v0M244.47 298.15v0M244.47 300.76v0M244.47 303.36v0M244.47 305.97v0M244.47 308.57v0M244.47 311.18v0M244.47 313.78v0M244.47 316.39v0M244.47 318.99v0M244.47 321.6v0M244.47 324.2v0" stroke="#3b76a6" stroke-width="4.2" stroke-linecap="round" fill="none"/>
<path d="M252.36 254.5V257.3M252.36 266.9V320.4" stroke="#3b76a6" stroke-width="3.3" stroke-linecap="round" fill="none"/>
<path d="M252.36 254.5v0M252.36 257.3v0M252.36 266.9v0M252.36 269.45v0M252.36 272v0M252.36 274.54v0M252.36 277.09v0M252.36 279.64v0M252.36 282.19v0M252.36 284.73v0M252.36 287.28v0M252.36 289.83v0M252.36 292.38v0M252.36 294.92v0M252.36 297.47v0M252.36 300.02v0M252.36 302.57v0M252.36 305.11v0M252.36 307.66v0M252.36 310.21v0M252.36 312.76v0M252.36 315.3v0M252.36 317.85v0M252.36 320.4v0" stroke="#3b76a6" stroke-width="4.2" stroke-linecap="round" fill="none"/>
<path d="M260.25 262.7V323.1" stroke="#3b76a6" stroke-width="3.3" stroke-linecap="round" fill="none"/>
<path d="M260.25 262.7v0M260.25 265.33v0M260.25 267.95v0M260.25 270.58v0M260.25 273.2v0M260.25 275.83v0M260.25 278.46v0M260.25 281.08v0M260.25 283.71v0M260.25 286.33v0M260.25 288.96v0M260.25 291.59v0M260.25 294.21v0M260.25 296.84v0M260.25 299.47v0M260.25 302.09v0M260.25 304.72v0M260.25 307.34v0M260.25 309.97v0M260.25 312.6v0M260.25 315.22v0M260.25 317.85v0M260.25 320.47v0M260.25 323.1v0" stroke="#3b76a6" stroke-width="4.2" stroke-linecap="round" fill="none"/>
<path d="M268.14 249.9V249.91M268.14 255.4V313.9" stroke="#62a8c7" stroke-width="3.3" stroke-linecap="round" fill="none"/>
<path d="M268.14 249.9v0M268.14 249.9v0M268.14 255.4v0M268.14 258.06v0M268.14 260.72v0M268.14 263.38v0M268.14 266.04v0M268.14 268.7v0M268.14 271.35v0M268.14 274.01v0M268.14 276.67v0M268.14 279.33v0M268.14 281.99v0M268.14 284.65v0M268.14 287.31v0M268.14 289.97v0M268.14 292.63v0M268.14 295.29v0M268.14 297.95v0M268.14 300.6v0M268.14 303.26v0M268.14 305.92v0M268.14 308.58v0M268.14 311.24v0M268.14 313.9v0" stroke="#62a8c7" stroke-width="4.2" stroke-linecap="round" fill="none"/>
<path d="M276.03 233.9V318.3" stroke="#62a8c7" stroke-width="3.3" stroke-linecap="round" fill="none"/>
<path d="M276.03 233.9v0M276.03 236.54v0M276.03 239.18v0M276.03 241.81v0M276.03 244.45v0M276.03 247.09v0M276.03 249.72v0M276.03 252.36v0M276.03 255v0M276.03 257.64v0M276.03 260.27v0M276.03 262.91v0M276.03 265.55v0M276.03 268.19v0M276.03 270.82v0M276.03 273.46v0M276.03 276.1v0M276.03 278.74v0M276.03 281.38v0M276.03 284.01v0M276.03 286.65v0M276.03 289.29v0M276.03 291.92v0M276.03 294.56v0M276.03 297.2v0M276.03 299.84v0M276.03 302.47v0M276.03 305.11v0M276.03 307.75v0M276.03 310.39v0M276.03 313.02v0M276.03 315.66v0M276.03 318.3v0" stroke="#62a8c7" stroke-width="4.2" stroke-linecap="round" fill="none"/>
<path d="M283.92 240.1V303.9M283.92 309.6V321.4" stroke="#62a8c7" stroke-width="3.3" stroke-linecap="round" fill="none"/>
<path d="M283.92 240.1v0M283.92 242.65v0M283.92 245.2v0M283.92 247.76v0M283.92 250.31v0M283.92 252.86v0M283.92 255.41v0M283.92 257.96v0M283.92 260.52v0M283.92 263.07v0M283.92 265.62v0M283.92 268.17v0M283.92 270.72v0M283.92 273.28v0M283.92 275.83v0M283.92 278.38v0M283.92 280.93v0M283.92 283.48v0M283.92 286.04v0M283.92 288.59v0M283.92 291.14v0M283.92 293.69v0M283.92 296.24v0M283.92 298.8v0M283.92 301.35v0M283.92 303.9v0M283.92 309.6v0M283.92 311.96v0M283.92 314.32v0M283.92 316.68v0M283.92 319.04v0M283.92 321.4v0" stroke="#62a8c7" stroke-width="4.2" stroke-linecap="round" fill="none"/>
<path d="M291.81 234.5V319.4" stroke="#62a8c7" stroke-width="3.3" stroke-linecap="round" fill="none"/>
<path d="M291.81 234.5v0M291.81 237.07v0M291.81 239.65v0M291.81 242.22v0M291.81 244.79v0M291.81 247.36v0M291.81 249.94v0M291.81 252.51v0M291.81 255.08v0M291.81 257.65v0M291.81 260.23v0M291.81 262.8v0M291.81 265.37v0M291.81 267.95v0M291.81 270.52v0M291.81 273.09v0M291.81 275.66v0M291.81 278.24v0M291.81 280.81v0M291.81 283.38v0M291.81 285.95v0M291.81 288.53v0M291.81 291.1v0M291.81 293.67v0M291.81 296.25v0M291.81 298.82v0M291.81 301.39v0M291.81 303.96v0M291.81 306.54v0M291.81 309.11v0M291.81 311.68v0M291.81 314.25v0M291.81 316.83v0M291.81 319.4v0" stroke="#62a8c7" stroke-width="4.2" stroke-linecap="round" fill="none"/>
<path d="M299.7 228.3V228.6M299.7 234.4V298.5M299.7 304.7V307.9" stroke="#a5d8e1" stroke-width="3.3" stroke-linecap="round" fill="none"/>
<path d="M299.7 228.3v0M299.7 228.6v0M299.7 234.4v0M299.7 236.96v0M299.7 239.53v0M299.7 242.09v0M299.7 244.66v0M299.7 247.22v0M299.7 249.78v0M299.7 252.35v0M299.7 254.91v0M299.7 257.48v0M299.7 260.04v0M299.7 262.6v0M299.7 265.17v0M299.7 267.73v0M299.7 270.3v0M299.7 272.86v0M299.7 275.42v0M299.7 277.99v0M299.7 280.55v0M299.7 283.12v0M299.7 285.68v0M299.7 288.24v0M299.7 290.81v0M299.7 293.37v0M299.7 295.94v0M299.7 298.5v0M299.7 304.7v0M299.7 307.9v0" stroke="#a5d8e1" stroke-width="4.2" stroke-linecap="round" fill="none"/>
<path d="M307.59 233.7V272.5M307.59 278.9V285.2" stroke="#a5d8e1" stroke-width="3.3" stroke-linecap="round" fill="none"/>
<path d="M307.59 233.7v0M307.59 236.29v0M307.59 238.87v0M307.59 241.46v0M307.59 244.05v0M307.59 246.63v0M307.59 249.22v0M307.59 251.81v0M307.59 254.39v0M307.59 256.98v0M307.59 259.57v0M307.59 262.15v0M307.59 264.74v0M307.59 267.33v0M307.59 269.91v0M307.59 272.5v0M307.59 278.9v0M307.59 282.05v0M307.59 285.2v0" stroke="#a5d8e1" stroke-width="4.2" stroke-linecap="round" fill="none"/>
<path d="M315.48 225.6V289.1M315.48 298.8V304.1" stroke="#a5d8e1" stroke-width="3.3" stroke-linecap="round" fill="none"/>
<path d="M315.48 225.6v0M315.48 228.25v0M315.48 230.89v0M315.48 233.54v0M315.48 236.18v0M315.48 238.83v0M315.48 241.47v0M315.48 244.12v0M315.48 246.77v0M315.48 249.41v0M315.48 252.06v0M315.48 254.7v0M315.48 257.35v0M315.48 260v0M315.48 262.64v0M315.48 265.29v0M315.48 267.93v0M315.48 270.58v0M315.48 273.22v0M315.48 275.87v0M315.48 278.52v0M315.48 281.16v0M315.48 283.81v0M315.48 286.45v0M315.48 289.1v0M315.48 298.8v0M315.48 301.45v0M315.48 304.1v0" stroke="#a5d8e1" stroke-width="4.2" stroke-linecap="round" fill="none"/>
<path d="M323.37 221.5V262.5M323.37 273.4V283.6M323.37 290.9V290.91" stroke="#a5d8e1" stroke-width="3.3" stroke-linecap="round" fill="none"/>
<path d="M323.37 221.5v0M323.37 224.06v0M323.37 226.62v0M323.37 229.19v0M323.37 231.75v0M323.37 234.31v0M323.37 236.88v0M323.37 239.44v0M323.37 242v0M323.37 244.56v0M323.37 247.12v0M323.37 249.69v0M323.37 252.25v0M323.37 254.81v0M323.37 257.38v0M323.37 259.94v0M323.37 262.5v0M323.37 273.4v0M323.37 275.95v0M323.37 278.5v0M323.37 281.05v0M323.37 283.6v0M323.37 290.9v0M323.37 290.9v0" stroke="#a5d8e1" stroke-width="4.2" stroke-linecap="round" fill="none"/>
<path d="M331.26 211.7V213.6M331.26 221.2V266.4M331.26 272.6V275M331.26 281.7V281.71M331.26 290.3V290.31M331.26 295.8V295.81" stroke="#a5d8e1" stroke-width="3.3" stroke-linecap="round" fill="none"/>
<path d="M331.26 211.7v0M331.26 213.6v0M331.26 221.2v0M331.26 223.86v0M331.26 226.52v0M331.26 229.18v0M331.26 231.84v0M331.26 234.49v0M331.26 237.15v0M331.26 239.81v0M331.26 242.47v0M331.26 245.13v0M331.26 247.79v0M331.26 250.45v0M331.26 253.11v0M331.26 255.76v0M331.26 258.42v0M331.26 261.08v0M331.26 263.74v0M331.26 266.4v0M331.26 272.6v0M331.26 275v0M331.26 281.7v0M331.26 281.7v0M331.26 290.3v0M331.26 290.3v0M331.26 295.8v0M331.26 295.8v0" stroke="#a5d8e1" stroke-width="4.2" stroke-linecap="round" fill="none"/>
<path d="M339.15 208.2V240.9M339.15 246.9V246.91" stroke="#a5d8e1" stroke-width="3.3" stroke-linecap="round" fill="none"/>
<path d="M339.15 208.2v0M339.15 210.72v0M339.15 213.23v0M339.15 215.75v0M339.15 218.26v0M339.15 220.78v0M339.15 223.29v0M339.15 225.81v0M339.15 228.32v0M339.15 230.84v0M339.15 233.35v0M339.15 235.87v0M339.15 238.38v0M339.15 240.9v0M339.15 246.9v0M339.15 246.9v0" stroke="#a5d8e1" stroke-width="4.2" stroke-linecap="round" fill="none"/>
<path d="M347.04 210.6V217.5M347.04 223.7V226.6M347.04 231.7V243M347.04 248V248.01M347.04 256.3V258.5" stroke="#a5d8e1" stroke-width="3.3" stroke-linecap="round" fill="none"/>
<path d="M347.04 210.6v0M347.04 212.9v0M347.04 215.2v0M347.04 217.5v0M347.04 223.7v0M347.04 226.6v0M347.04 231.7v0M347.04 234.52v0M347.04 237.35v0M347.04 240.18v0M347.04 243v0M347.04 248v0M347.04 248v0M347.04 256.3v0M347.04 258.5v0" stroke="#a5d8e1" stroke-width="4.2" stroke-linecap="round" fill="none"/>
<line x1="220.5" y1="317.5" x2="347.5" y2="231.7" stroke="#ff0000" stroke-width="2.3"/>
<g fill="#262626" filter="url(#nolcd)"><text x="179.6" y="202.8">(e)</text><text x="284.3" y="198.4" text-anchor="middle">ViT_Linear</text><text x="213.4" y="212.8">R = 0.87</text><text x="213.4" y="222.9">RMSE = 10.84</text><text x="213.4" y="233">MAE = 8.44</text><text x="209.1" y="324.3" text-anchor="end">40</text><text x="209.1" y="295.6" text-anchor="end">60</text><text x="209.1" y="266.9" text-anchor="end">80</text><text x="209.1" y="238.2" text-anchor="end">100</text><text x="228.69" y="349.7" text-anchor="middle">40</text><text x="260.25" y="349.7" text-anchor="middle">60</text><text x="291.81" y="349.7" text-anchor="middle">80</text><text x="323.37" y="349.7" text-anchor="middle">100</text><text x="283.8" y="361.8" text-anchor="middle" style="font-size:10.5px">Best-track (kt)</text><text transform="translate(189.3 269) rotate(-90)" text-anchor="middle" style="font-size:10.5px">Estimation (kt)</text></g>
<path d="M406.08 201.5V334M437.6 201.5V334M469.12 201.5V334M500.64 201.5V334M391.6 325.1H530M391.6 293.43H530M391.6 261.77H530M391.6 230.1H530" stroke="#dcdcdc" stroke-width="1" fill="none"/>
<path d="M398.2 260.4V260.41M398.2 268.1V268.11M398.2 276.5V276.51M398.2 281.5V329.7" stroke="#254576" stroke-width="3.3" stroke-linecap="round" fill="none"/>
<path d="M398.2 260.4v0M398.2 260.4v0M398.2 268.1v0M398.2 268.1v0M398.2 276.5v0M398.2 276.5v0M398.2 281.5v0M398.2 284.04v0M398.2 286.57v0M398.2 289.11v0M398.2 291.65v0M398.2 294.18v0M398.2 296.72v0M398.2 299.26v0M398.2 301.79v0M398.2 304.33v0M398.2 306.87v0M398.2 309.41v0M398.2 311.94v0M398.2 314.48v0M398.2 317.02v0M398.2 319.55v0M398.2 322.09v0M398.2 324.63v0M398.2 327.16v0M398.2 329.7v0" stroke="#254576" stroke-width="4.2" stroke-linecap="round" fill="none"/>
<path d="M406.08 269.4V329.4" stroke="#284b7f" stroke-width="3.3" stroke-linecap="round" fill="none"/>
<path d="M406.08 269.4v0M406.08 272.01v0M406.08 274.62v0M406.08 277.23v0M406.08 279.83v0M406.08 282.44v0M406.08 285.05v0M406.08 287.66v0M406.08 290.27v0M406.08 292.88v0M406.08 295.49v0M406.08 298.1v0M406.08 300.7v0M406.08 303.31v0M406.08 305.92v0M406.08 308.53v0M406.08 311.14v0M406.08 313.75v0M406.08 316.36v0M406.08 318.97v0M406.08 321.57v0M406.08 324.18v0M406.08 326.79v0M406.08 329.4v0" stroke="#284b7f" stroke-width="4.2" stroke-linecap="round" fill="none"/>
<path d="M413.96 247.2V250M413.96 262.7V328.5" stroke="#3b76a6" stroke-width="3.3" stroke-linecap="round" fill="none"/>
<path d="M413.96 247.2v0M413.96 250v0M413.96 262.7v0M413.96 265.33v0M413.96 267.96v0M413.96 270.6v0M413.96 273.23v0M413.96 275.86v0M413.96 278.49v0M413.96 281.12v0M413.96 283.76v0M413.96 286.39v0M413.96 289.02v0M413.96 291.65v0M413.96 294.28v0M413.96 296.92v0M413.96 299.55v0M413.96 302.18v0M413.96 304.81v0M413.96 307.44v0M413.96 310.08v0M413.96 312.71v0M413.96 315.34v0M413.96 317.97v0M413.96 320.6v0M413.96 323.24v0M413.96 325.87v0M413.96 328.5v0" stroke="#3b76a6" stroke-width="4.2" stroke-linecap="round" fill="none"/>
<path d="M421.84 261V327.6" stroke="#3b76a6" stroke-width="3.3" stroke-linecap="round" fill="none"/>
<path d="M421.84 261v0M421.84 263.56v0M421.84 266.12v0M421.84 268.68v0M421.84 271.25v0M421.84 273.81v0M421.84 276.37v0M421.84 278.93v0M421.84 281.49v0M421.84 284.05v0M421.84 286.62v0M421.84 289.18v0M421.84 291.74v0M421.84 294.3v0M421.84 296.86v0M421.84 299.42v0M421.84 301.98v0M421.84 304.55v0M421.84 307.11v0M421.84 309.67v0M421.84 312.23v0M421.84 314.79v0M421.84 317.35v0M421.84 319.92v0M421.84 322.48v0M421.84 325.04v0M421.84 327.6v0" stroke="#3b76a6" stroke-width="4.2" stroke-linecap="round" fill="none"/>
<path d="M429.72 245.8V248.9M429.72 270V326.3" stroke="#3b76a6" stroke-width="3.3" stroke-linecap="round" fill="none"/>
<path d="M429.72 245.8v0M429.72 248.9v0M429.72 270v0M429.72 272.56v0M429.72 275.12v0M429.72 277.68v0M429.72 280.24v0M429.72 282.8v0M429.72 285.35v0M429.72 287.91v0M429.72 290.47v0M429.72 293.03v0M429.72 295.59v0M429.72 298.15v0M429.72 300.71v0M429.72 303.27v0M429.72 305.83v0M429.72 308.39v0M429.72 310.95v0M429.72 313.5v0M429.72 316.06v0M429.72 318.62v0M429.72 321.18v0M429.72 323.74v0M429.72 326.3v0" stroke="#3b76a6" stroke-width="4.2" stroke-linecap="round" fill="none"/>
<path d="M437.6 261.7V327.9" stroke="#3b76a6" stroke-width="3.3" stroke-linecap="round" fill="none"/>
<path d="M437.6 261.7v0M437.6 264.35v0M437.6 267v0M437.6 269.64v0M437.6 272.29v0M437.6 274.94v0M437.6 277.59v0M437.6 280.24v0M437.6 282.88v0M437.6 285.53v0M437.6 288.18v0M437.6 290.83v0M437.6 293.48v0M437.6 296.12v0M437.6 298.77v0M437.6 301.42v0M437.6 304.07v0M437.6 306.72v0M437.6 309.36v0M437.6 312.01v0M437.6 314.66v0M437.6 317.31v0M437.6 319.96v0M437.6 322.6v0M437.6 325.25v0M437.6 327.9v0" stroke="#3b76a6" stroke-width="4.2" stroke-linecap="round" fill="none"/>
<path d="M445.48 249.3V249.31M445.48 257.5V320.6" stroke="#62a8c7" stroke-width="3.3" stroke-linecap="round" fill="none"/>
<path d="M445.48 249.3v0M445.48 249.3v0M445.48 257.5v0M445.48 260.13v0M445.48 262.76v0M445.48 265.39v0M445.48 268.02v0M445.48 270.65v0M445.48 273.27v0M445.48 275.9v0M445.48 278.53v0M445.48 281.16v0M445.48 283.79v0M445.48 286.42v0M445.48 289.05v0M445.48 291.68v0M445.48 294.31v0M445.48 296.94v0M445.48 299.57v0M445.48 302.2v0M445.48 304.82v0M445.48 307.45v0M445.48 310.08v0M445.48 312.71v0M445.48 315.34v0M445.48 317.97v0M445.48 320.6v0" stroke="#62a8c7" stroke-width="4.2" stroke-linecap="round" fill="none"/>
<path d="M453.36 226.3V226.31M453.36 234.5V323.9" stroke="#62a8c7" stroke-width="3.3" stroke-linecap="round" fill="none"/>
<path d="M453.36 226.3v0M453.36 226.3v0M453.36 234.5v0M453.36 237.13v0M453.36 239.76v0M453.36 242.39v0M453.36 245.02v0M453.36 247.65v0M453.36 250.28v0M453.36 252.91v0M453.36 255.54v0M453.36 258.16v0M453.36 260.79v0M453.36 263.42v0M453.36 266.05v0M453.36 268.68v0M453.36 271.31v0M453.36 273.94v0M453.36 276.57v0M453.36 279.2v0M453.36 281.83v0M453.36 284.46v0M453.36 287.09v0M453.36 289.72v0M453.36 292.35v0M453.36 294.98v0M453.36 297.61v0M453.36 300.24v0M453.36 302.86v0M453.36 305.49v0M453.36 308.12v0M453.36 310.75v0M453.36 313.38v0M453.36 316.01v0M453.36 318.64v0M453.36 321.27v0M453.36 323.9v0" stroke="#62a8c7" stroke-width="4.2" stroke-linecap="round" fill="none"/>
<path d="M461.24 231.4V306.3M461.24 313.4V324.3" stroke="#62a8c7" stroke-width="3.3" stroke-linecap="round" fill="none"/>
<path d="M461.24 231.4v0M461.24 233.98v0M461.24 236.57v0M461.24 239.15v0M461.24 241.73v0M461.24 244.31v0M461.24 246.9v0M461.24 249.48v0M461.24 252.06v0M461.24 254.64v0M461.24 257.23v0M461.24 259.81v0M461.24 262.39v0M461.24 264.98v0M461.24 267.56v0M461.24 270.14v0M461.24 272.72v0M461.24 275.31v0M461.24 277.89v0M461.24 280.47v0M461.24 283.06v0M461.24 285.64v0M461.24 288.22v0M461.24 290.8v0M461.24 293.39v0M461.24 295.97v0M461.24 298.55v0M461.24 301.13v0M461.24 303.72v0M461.24 306.3v0M461.24 313.4v0M461.24 316.12v0M461.24 318.85v0M461.24 321.57v0M461.24 324.3v0" stroke="#62a8c7" stroke-width="4.2" stroke-linecap="round" fill="none"/>
<path d="M469.12 230.3V324.3" stroke="#62a8c7" stroke-width="3.3" stroke-linecap="round" fill="none"/>
<path d="M469.12 230.3v0M469.12 232.91v0M469.12 235.52v0M469.12 238.13v0M469.12 240.74v0M469.12 243.36v0M469.12 245.97v0M469.12 248.58v0M469.12 251.19v0M469.12 253.8v0M469.12 256.41v0M469.12 259.02v0M469.12 261.63v0M469.12 264.24v0M469.12 266.86v0M469.12 269.47v0M469.12 272.08v0M469.12 274.69v0M469.12 277.3v0M469.12 279.91v0M469.12 282.52v0M469.12 285.13v0M469.12 287.74v0M469.12 290.36v0M469.12 292.97v0M469.12 295.58v0M469.12 298.19v0M469.12 300.8v0M469.12 303.41v0M469.12 306.02v0M469.12 308.63v0M469.12 311.24v0M469.12 313.86v0M469.12 316.47v0M469.12 319.08v0M469.12 321.69v0M469.12 324.3v0" stroke="#62a8c7" stroke-width="4.2" stroke-linecap="round" fill="none"/>
<path d="M477 219.5V304.7M477 312.3V312.31" stroke="#a5d8e1" stroke-width="3.3" stroke-linecap="round" fill="none"/>
<path d="M477 219.5v0M477 222.08v0M477 224.66v0M477 227.25v0M477 229.83v0M477 232.41v0M477 234.99v0M477 237.57v0M477 240.15v0M477 242.74v0M477 245.32v0M477 247.9v0M477 250.48v0M477 253.06v0M477 255.65v0M477 258.23v0M477 260.81v0M477 263.39v0M477 265.97v0M477 268.55v0M477 271.14v0M477 273.72v0M477 276.3v0M477 278.88v0M477 281.46v0M477 284.05v0M477 286.63v0M477 289.21v0M477 291.79v0M477 294.37v0M477 296.95v0M477 299.54v0M477 302.12v0M477 304.7v0M477 312.3v0M477 312.3v0" stroke="#a5d8e1" stroke-width="4.2" stroke-linecap="round" fill="none"/>
<path d="M484.88 227.2V283.6" stroke="#a5d8e1" stroke-width="3.3" stroke-linecap="round" fill="none"/>
<path d="M484.88 227.2v0M484.88 229.76v0M484.88 232.33v0M484.88 234.89v0M484.88 237.45v0M484.88 240.02v0M484.88 242.58v0M484.88 245.15v0M484.88 247.71v0M484.88 250.27v0M484.88 252.84v0M484.88 255.4v0M484.88 257.96v0M484.88 260.53v0M484.88 263.09v0M484.88 265.65v0M484.88 268.22v0M484.88 270.78v0M484.88 273.35v0M484.88 275.91v0M484.88 278.47v0M484.88 281.04v0M484.88 283.6v0" stroke="#a5d8e1" stroke-width="4.2" stroke-linecap="round" fill="none"/>
<path d="M492.76 208.2V208.21M492.76 214.3V214.31M492.76 218.9V294.1M492.76 302.7V307.9" stroke="#a5d8e1" stroke-width="3.3" stroke-linecap="round" fill="none"/>
<path d="M492.76 208.2v0M492.76 208.2v0M492.76 214.3v0M492.76 214.3v0M492.76 218.9v0M492.76 221.49v0M492.76 224.09v0M492.76 226.68v0M492.76 229.27v0M492.76 231.87v0M492.76 234.46v0M492.76 237.05v0M492.76 239.64v0M492.76 242.24v0M492.76 244.83v0M492.76 247.42v0M492.76 250.02v0M492.76 252.61v0M492.76 255.2v0M492.76 257.8v0M492.76 260.39v0M492.76 262.98v0M492.76 265.58v0M492.76 268.17v0M492.76 270.76v0M492.76 273.36v0M492.76 275.95v0M492.76 278.54v0M492.76 281.13v0M492.76 283.73v0M492.76 286.32v0M492.76 288.91v0M492.76 291.51v0M492.76 294.1v0M492.76 302.7v0M492.76 305.3v0M492.76 307.9v0" stroke="#a5d8e1" stroke-width="4.2" stroke-linecap="round" fill="none"/>
<path d="M500.64 208.4V269.7M500.64 277.3V286.3M500.64 293.6V297.7" stroke="#a5d8e1" stroke-width="3.3" stroke-linecap="round" fill="none"/>
<path d="M500.64 208.4v0M500.64 210.95v0M500.64 213.51v0M500.64 216.06v0M500.64 218.62v0M500.64 221.17v0M500.64 223.72v0M500.64 226.28v0M500.64 228.83v0M500.64 231.39v0M500.64 233.94v0M500.64 236.5v0M500.64 239.05v0M500.64 241.6v0M500.64 244.16v0M500.64 246.71v0M500.64 249.27v0M500.64 251.82v0M500.64 254.38v0M500.64 256.93v0M500.64 259.48v0M500.64 262.04v0M500.64 264.59v0M500.64 267.15v0M500.64 269.7v0M500.64 277.3v0M500.64 280.3v0M500.64 283.3v0M500.64 286.3v0M500.64 293.6v0M500.64 295.65v0M500.64 297.7v0" stroke="#a5d8e1" stroke-width="4.2" stroke-linecap="round" fill="none"/>
<path d="M508.52 209V272.5M508.52 280.6V281.4M508.52 294.7V294.71" stroke="#a5d8e1" stroke-width="3.3" stroke-linecap="round" fill="none"/>
<path d="M508.52 209v0M508.52 211.65v0M508.52 214.29v0M508.52 216.94v0M508.52 219.58v0M508.52 222.23v0M508.52 224.88v0M508.52 227.52v0M508.52 230.17v0M508.52 232.81v0M508.52 235.46v0M508.52 238.1v0M508.52 240.75v0M508.52 243.4v0M508.52 246.04v0M508.52 248.69v0M508.52 251.33v0M508.52 253.98v0M508.52 256.62v0M508.52 259.27v0M508.52 261.92v0M508.52 264.56v0M508.52 267.21v0M508.52 269.85v0M508.52 272.5v0M508.52 280.6v0M508.52 281.4v0M508.52 294.7v0M508.52 294.7v0" stroke="#a5d8e1" stroke-width="4.2" stroke-linecap="round" fill="none"/>
<path d="M516.4 208.4V218.6M516.4 223.1V244.9" stroke="#a5d8e1" stroke-width="3.3" stroke-linecap="round" fill="none"/>
<path d="M516.4 208.4v0M516.4 210.95v0M516.4 213.5v0M516.4 216.05v0M516.4 218.6v0M516.4 223.1v0M516.4 225.82v0M516.4 228.55v0M516.4 231.28v0M516.4 234v0M516.4 236.72v0M516.4 239.45v0M516.4 242.18v0M516.4 244.9v0" stroke="#a5d8e1" stroke-width="4.2" stroke-linecap="round" fill="none"/>
<path d="M524.28 209V233M524.28 241.9V241.91M524.28 251.9V251.91M524.28 259.3V259.8" stroke="#a5d8e1" stroke-width="3.3" stroke-linecap="round" fill="none"/>
<path d="M524.28 209v0M524.28 211.67v0M524.28 214.33v0M524.28 217v0M524.28 219.67v0M524.28 222.33v0M524.28 225v0M524.28 227.67v0M524.28 230.33v0M524.28 233v0M524.28 241.9v0M524.28 241.9v0M524.28 251.9v0M524.28 251.9v0M524.28 259.3v0M524.28 259.8v0" stroke="#a5d8e1" stroke-width="4.2" stroke-linecap="round" fill="none"/>
<line x1="398.1" y1="322" x2="524.7" y2="228.2" stroke="#ff0000" stroke-width="2.3"/>
<g fill="#262626" filter="url(#nolcd)"><text x="363.8" y="199.3">(f)</text><text x="461.5" y="198.4" text-anchor="middle">ViT_GB</text><text x="391" y="212.4">R = 0.87</text><text x="391" y="222.5">RMSE = 11.12</text><text x="391" y="232.6">MAE = 8.66</text><text x="386.3" y="329.2" text-anchor="end">40</text><text x="386.3" y="297.53" text-anchor="end">60</text><text x="386.3" y="265.87" text-anchor="end">80</text><text x="386.3" y="234.2" text-anchor="end">100</text><text x="406.08" y="350" text-anchor="middle">40</text><text x="437.6" y="350" text-anchor="middle">60</text><text x="469.12" y="350" text-anchor="middle">80</text><text x="500.64" y="350" text-anchor="middle">100</text><text x="461.5" y="361.8" text-anchor="middle" style="font-size:10.5px">Best-track (kt)</text><text transform="translate(366.3 268.7) rotate(-90)" text-anchor="middle" style="font-size:10.5px">Estimation (kt)</text></g>
<path d="M51.75 386.3V518.7M82.75 386.3V518.7M113.75 386.3V518.7M144.75 386.3V518.7M36.5 511H175M36.5 478.07H175M36.5 445.13H175M36.5 412.2H175" stroke="#dcdcdc" stroke-width="1" fill="none"/>
<path d="M44 461.4V512.2" stroke="#254576" stroke-width="3.3" stroke-linecap="round" fill="none"/>
<path d="M44 461.4v0M44 463.94v0M44 466.48v0M44 469.02v0M44 471.56v0M44 474.1v0M44 476.64v0M44 479.18v0M44 481.72v0M44 484.26v0M44 486.8v0M44 489.34v0M44 491.88v0M44 494.42v0M44 496.96v0M44 499.5v0M44 502.04v0M44 504.58v0M44 507.12v0M44 509.66v0M44 512.2v0" stroke="#254576" stroke-width="4.2" stroke-linecap="round" fill="none"/>
<path d="M51.75 451.8V457.9M51.75 463.3V512.2" stroke="#284b7f" stroke-width="3.3" stroke-linecap="round" fill="none"/>
<path d="M51.75 451.8v0M51.75 454.85v0M51.75 457.9v0M51.75 463.3v0M51.75 465.87v0M51.75 468.45v0M51.75 471.02v0M51.75 473.59v0M51.75 476.17v0M51.75 478.74v0M51.75 481.32v0M51.75 483.89v0M51.75 486.46v0M51.75 489.04v0M51.75 491.61v0M51.75 494.18v0M51.75 496.76v0M51.75 499.33v0M51.75 501.91v0M51.75 504.48v0M51.75 507.05v0M51.75 509.63v0M51.75 512.2v0" stroke="#284b7f" stroke-width="4.2" stroke-linecap="round" fill="none"/>
<path d="M59.5 429.6V429.61M59.5 435.1V435.11M59.5 441.6V448.9M59.5 452.5V452.51M59.5 462.1V512.2" stroke="#3b76a6" stroke-width="3.3" stroke-linecap="round" fill="none"/>
<path d="M59.5 429.6v0M59.5 429.6v0M59.5 435.1v0M59.5 435.1v0M59.5 441.6v0M59.5 444.03v0M59.5 446.47v0M59.5 448.9v0M59.5 452.5v0M59.5 452.5v0M59.5 462.1v0M59.5 464.74v0M59.5 467.37v0M59.5 470.01v0M59.5 472.65v0M59.5 475.28v0M59.5 477.92v0M59.5 480.56v0M59.5 483.19v0M59.5 485.83v0M59.5 488.47v0M59.5 491.11v0M59.5 493.74v0M59.5 496.38v0M59.5 499.02v0M59.5 501.65v0M59.5 504.29v0M59.5 506.93v0M59.5 509.56v0M59.5 512.2v0" stroke="#3b76a6" stroke-width="4.2" stroke-linecap="round" fill="none"/>
<path d="M67.25 443.5V512.2" stroke="#3b76a6" stroke-width="3.3" stroke-linecap="round" fill="none"/>
<path d="M67.25 443.5v0M67.25 446.14v0M67.25 448.78v0M67.25 451.43v0M67.25 454.07v0M67.25 456.71v0M67.25 459.35v0M67.25 462v0M67.25 464.64v0M67.25 467.28v0M67.25 469.92v0M67.25 472.57v0M67.25 475.21v0M67.25 477.85v0M67.25 480.49v0M67.25 483.13v0M67.25 485.78v0M67.25 488.42v0M67.25 491.06v0M67.25 493.7v0M67.25 496.35v0M67.25 498.99v0M67.25 501.63v0M67.25 504.27v0M67.25 506.92v0M67.25 509.56v0M67.25 512.2v0" stroke="#3b76a6" stroke-width="4.2" stroke-linecap="round" fill="none"/>
<path d="M75 427.4V427.41M75 432.9V432.91M75 449.2V449.21M75 461V512.2" stroke="#3b76a6" stroke-width="3.3" stroke-linecap="round" fill="none"/>
<path d="M75 427.4v0M75 427.4v0M75 432.9v0M75 432.9v0M75 449.2v0M75 449.2v0M75 461v0M75 463.56v0M75 466.12v0M75 468.68v0M75 471.24v0M75 473.8v0M75 476.36v0M75 478.92v0M75 481.48v0M75 484.04v0M75 486.6v0M75 489.16v0M75 491.72v0M75 494.28v0M75 496.84v0M75 499.4v0M75 501.96v0M75 504.52v0M75 507.08v0M75 509.64v0M75 512.2v0" stroke="#3b76a6" stroke-width="4.2" stroke-linecap="round" fill="none"/>
<path d="M82.75 445.7V512.2" stroke="#3b76a6" stroke-width="3.3" stroke-linecap="round" fill="none"/>
<path d="M82.75 445.7v0M82.75 448.26v0M82.75 450.82v0M82.75 453.37v0M82.75 455.93v0M82.75 458.49v0M82.75 461.05v0M82.75 463.6v0M82.75 466.16v0M82.75 468.72v0M82.75 471.28v0M82.75 473.83v0M82.75 476.39v0M82.75 478.95v0M82.75 481.51v0M82.75 484.07v0M82.75 486.62v0M82.75 489.18v0M82.75 491.74v0M82.75 494.3v0M82.75 496.85v0M82.75 499.41v0M82.75 501.97v0M82.75 504.53v0M82.75 507.08v0M82.75 509.64v0M82.75 512.2v0" stroke="#3b76a6" stroke-width="4.2" stroke-linecap="round" fill="none"/>
<path d="M90.5 430.7V430.71M90.5 435.9V504.7" stroke="#62a8c7" stroke-width="3.3" stroke-linecap="round" fill="none"/>
<path d="M90.5 430.7v0M90.5 430.7v0M90.5 435.9v0M90.5 438.55v0M90.5 441.19v0M90.5 443.84v0M90.5 446.48v0M90.5 449.13v0M90.5 451.78v0M90.5 454.42v0M90.5 457.07v0M90.5 459.72v0M90.5 462.36v0M90.5 465.01v0M90.5 467.65v0M90.5 470.3v0M90.5 472.95v0M90.5 475.59v0M90.5 478.24v0M90.5 480.88v0M90.5 483.53v0M90.5 486.18v0M90.5 488.82v0M90.5 491.47v0M90.5 494.12v0M90.5 496.76v0M90.5 499.41v0M90.5 502.05v0M90.5 504.7v0" stroke="#62a8c7" stroke-width="4.2" stroke-linecap="round" fill="none"/>
<path d="M98.25 408.9V408.91M98.25 417.4V510.4" stroke="#62a8c7" stroke-width="3.3" stroke-linecap="round" fill="none"/>
<path d="M98.25 408.9v0M98.25 408.9v0M98.25 417.4v0M98.25 419.98v0M98.25 422.57v0M98.25 425.15v0M98.25 427.73v0M98.25 430.32v0M98.25 432.9v0M98.25 435.48v0M98.25 438.07v0M98.25 440.65v0M98.25 443.23v0M98.25 445.82v0M98.25 448.4v0M98.25 450.98v0M98.25 453.57v0M98.25 456.15v0M98.25 458.73v0M98.25 461.32v0M98.25 463.9v0M98.25 466.48v0M98.25 469.07v0M98.25 471.65v0M98.25 474.23v0M98.25 476.82v0M98.25 479.4v0M98.25 481.98v0M98.25 484.57v0M98.25 487.15v0M98.25 489.73v0M98.25 492.32v0M98.25 494.9v0M98.25 497.48v0M98.25 500.07v0M98.25 502.65v0M98.25 505.23v0M98.25 507.82v0M98.25 510.4v0" stroke="#62a8c7" stroke-width="4.2" stroke-linecap="round" fill="none"/>
<path d="M106 417.4V491.1M106 498.5V511.1" stroke="#62a8c7" stroke-width="3.3" stroke-linecap="round" fill="none"/>
<path d="M106 417.4v0M106 420.03v0M106 422.66v0M106 425.3v0M106 427.93v0M106 430.56v0M106 433.19v0M106 435.83v0M106 438.46v0M106 441.09v0M106 443.72v0M106 446.35v0M106 448.99v0M106 451.62v0M106 454.25v0M106 456.88v0M106 459.51v0M106 462.15v0M106 464.78v0M106 467.41v0M106 470.04v0M106 472.67v0M106 475.31v0M106 477.94v0M106 480.57v0M106 483.2v0M106 485.84v0M106 488.47v0M106 491.1v0M106 498.5v0M106 501.02v0M106 503.54v0M106 506.06v0M106 508.58v0M106 511.1v0" stroke="#62a8c7" stroke-width="4.2" stroke-linecap="round" fill="none"/>
<path d="M113.75 413V510.6" stroke="#62a8c7" stroke-width="3.3" stroke-linecap="round" fill="none"/>
<path d="M113.75 413v0M113.75 415.57v0M113.75 418.14v0M113.75 420.71v0M113.75 423.27v0M113.75 425.84v0M113.75 428.41v0M113.75 430.98v0M113.75 433.55v0M113.75 436.12v0M113.75 438.68v0M113.75 441.25v0M113.75 443.82v0M113.75 446.39v0M113.75 448.96v0M113.75 451.53v0M113.75 454.09v0M113.75 456.66v0M113.75 459.23v0M113.75 461.8v0M113.75 464.37v0M113.75 466.94v0M113.75 469.51v0M113.75 472.07v0M113.75 474.64v0M113.75 477.21v0M113.75 479.78v0M113.75 482.35v0M113.75 484.92v0M113.75 487.48v0M113.75 490.05v0M113.75 492.62v0M113.75 495.19v0M113.75 497.76v0M113.75 500.33v0M113.75 502.89v0M113.75 505.46v0M113.75 508.03v0M113.75 510.6v0" stroke="#62a8c7" stroke-width="4.2" stroke-linecap="round" fill="none"/>
<path d="M121.5 399.3V409.5M121.5 416.4V489.4M121.5 498.3V498.31" stroke="#a5d8e1" stroke-width="3.3" stroke-linecap="round" fill="none"/>
<path d="M121.5 399.3v0M121.5 401.85v0M121.5 404.4v0M121.5 406.95v0M121.5 409.5v0M121.5 416.4v0M121.5 419.01v0M121.5 421.61v0M121.5 424.22v0M121.5 426.83v0M121.5 429.44v0M121.5 432.04v0M121.5 434.65v0M121.5 437.26v0M121.5 439.86v0M121.5 442.47v0M121.5 445.08v0M121.5 447.69v0M121.5 450.29v0M121.5 452.9v0M121.5 455.51v0M121.5 458.11v0M121.5 460.72v0M121.5 463.33v0M121.5 465.94v0M121.5 468.54v0M121.5 471.15v0M121.5 473.76v0M121.5 476.36v0M121.5 478.97v0M121.5 481.58v0M121.5 484.19v0M121.5 486.79v0M121.5 489.4v0M121.5 498.3v0M121.5 498.3v0" stroke="#a5d8e1" stroke-width="4.2" stroke-linecap="round" fill="none"/>
<path d="M129.25 406.2V406.21M129.25 411.5V461.7M129.25 468.7V473.9" stroke="#a5d8e1" stroke-width="3.3" stroke-linecap="round" fill="none"/>
<path d="M129.25 406.2v0M129.25 406.2v0M129.25 411.5v0M129.25 414.14v0M129.25 416.78v0M129.25 419.43v0M129.25 422.07v0M129.25 424.71v0M129.25 427.35v0M129.25 429.99v0M129.25 432.64v0M129.25 435.28v0M129.25 437.92v0M129.25 440.56v0M129.25 443.21v0M129.25 445.85v0M129.25 448.49v0M129.25 451.13v0M129.25 453.77v0M129.25 456.42v0M129.25 459.06v0M129.25 461.7v0M129.25 468.7v0M129.25 471.3v0M129.25 473.9v0" stroke="#a5d8e1" stroke-width="4.2" stroke-linecap="round" fill="none"/>
<path d="M137 394.3V475M137 485.8V493.3" stroke="#a5d8e1" stroke-width="3.3" stroke-linecap="round" fill="none"/>
<path d="M137 394.3v0M137 396.9v0M137 399.51v0M137 402.11v0M137 404.71v0M137 407.32v0M137 409.92v0M137 412.52v0M137 415.13v0M137 417.73v0M137 420.33v0M137 422.94v0M137 425.54v0M137 428.14v0M137 430.75v0M137 433.35v0M137 435.95v0M137 438.55v0M137 441.16v0M137 443.76v0M137 446.36v0M137 448.97v0M137 451.57v0M137 454.17v0M137 456.78v0M137 459.38v0M137 461.98v0M137 464.59v0M137 467.19v0M137 469.79v0M137 472.4v0M137 475v0M137 485.8v0M137 488.3v0M137 490.8v0M137 493.3v0" stroke="#a5d8e1" stroke-width="4.2" stroke-linecap="round" fill="none"/>
<path d="M144.75 392.6V444.5M144.75 452.1V455.1M144.75 462.6V472.8M144.75 480.6V480.61" stroke="#a5d8e1" stroke-width="3.3" stroke-linecap="round" fill="none"/>
<path d="M144.75 392.6v0M144.75 395.2v0M144.75 397.79v0M144.75 400.38v0M144.75 402.98v0M144.75 405.58v0M144.75 408.17v0M144.75 410.76v0M144.75 413.36v0M144.75 415.96v0M144.75 418.55v0M144.75 421.14v0M144.75 423.74v0M144.75 426.34v0M144.75 428.93v0M144.75 431.52v0M144.75 434.12v0M144.75 436.72v0M144.75 439.31v0M144.75 441.9v0M144.75 444.5v0M144.75 452.1v0M144.75 455.1v0M144.75 462.6v0M144.75 465.15v0M144.75 467.7v0M144.75 470.25v0M144.75 472.8v0M144.75 480.6v0M144.75 480.6v0" stroke="#a5d8e1" stroke-width="4.2" stroke-linecap="round" fill="none"/>
<path d="M152.5 393.2V455.1M152.5 463.1V464.5M152.5 477.8V477.81" stroke="#a5d8e1" stroke-width="3.3" stroke-linecap="round" fill="none"/>
<path d="M152.5 393.2v0M152.5 395.78v0M152.5 398.36v0M152.5 400.94v0M152.5 403.52v0M152.5 406.1v0M152.5 408.68v0M152.5 411.25v0M152.5 413.83v0M152.5 416.41v0M152.5 418.99v0M152.5 421.57v0M152.5 424.15v0M152.5 426.73v0M152.5 429.31v0M152.5 431.89v0M152.5 434.47v0M152.5 437.05v0M152.5 439.62v0M152.5 442.2v0M152.5 444.78v0M152.5 447.36v0M152.5 449.94v0M152.5 452.52v0M152.5 455.1v0M152.5 463.1v0M152.5 464.5v0M152.5 477.8v0M152.5 477.8v0" stroke="#a5d8e1" stroke-width="4.2" stroke-linecap="round" fill="none"/>
<path d="M160.25 393.2V400.1M160.25 410.9V410.91M160.25 417V417.01M160.25 423.9V423.91M160.25 430V430.01" stroke="#a5d8e1" stroke-width="3.3" stroke-linecap="round" fill="none"/>
<path d="M160.25 393.2v0M160.25 395.5v0M160.25 397.8v0M160.25 400.1v0M160.25 410.9v0M160.25 410.9v0M160.25 417v0M160.25 417v0M160.25 423.9v0M160.25 423.9v0M160.25 430v0M160.25 430v0" stroke="#a5d8e1" stroke-width="4.2" stroke-linecap="round" fill="none"/>
<path d="M168 393.2V413.9M168 419.5V424.1M168 434.5V434.51M168 441.3V441.31" stroke="#a5d8e1" stroke-width="3.3" stroke-linecap="round" fill="none"/>
<path d="M168 393.2v0M168 395.79v0M168 398.38v0M168 400.96v0M168 403.55v0M168 406.14v0M168 408.73v0M168 411.31v0M168 413.9v0M168 419.5v0M168 421.8v0M168 424.1v0M168 434.5v0M168 434.5v0M168 441.3v0M168 441.3v0" stroke="#a5d8e1" stroke-width="4.2" stroke-linecap="round" fill="none"/>
<line x1="43.1" y1="507.9" x2="168.6" y2="409.8" stroke="#ff0000" stroke-width="2.3"/>
<g fill="#262626" filter="url(#nolcd)"><text x="9.9" y="379.7">(g)</text><text x="105.8" y="382.4" text-anchor="middle">ViT_RF</text><text x="36.8" y="395.4">R = 0.87</text><text x="36.8" y="405.5">RMSE = 10.99</text><text x="36.8" y="415.6">MAE = 8.60</text><text x="32.3" y="515.1" text-anchor="end">40</text><text x="32.3" y="482.17" text-anchor="end">60</text><text x="32.3" y="449.23" text-anchor="end">80</text><text x="32.3" y="416.3" text-anchor="end">100</text><text x="51.75" y="532.3" text-anchor="middle">40</text><text x="82.75" y="532.3" text-anchor="middle">60</text><text x="113.75" y="532.3" text-anchor="middle">80</text><text x="144.75" y="532.3" text-anchor="middle">100</text><text x="106.2" y="544.2" text-anchor="middle" style="font-size:10.5px">Best-track (kt)</text><text transform="translate(12.8 452.3) rotate(-90)" text-anchor="middle" style="font-size:10.5px">Estimation (kt)</text></g>
<path d="M228.69 384.5V518.7M260.25 384.5V518.7M291.81 384.5V518.7M323.37 384.5V518.7M213.9 501.8H352.7M213.9 472.27H352.7M213.9 442.73H352.7M213.9 413.2H352.7" stroke="#dcdcdc" stroke-width="1" fill="none"/>
<path d="M220.8 461.8V511.7" stroke="#254576" stroke-width="3.3" stroke-linecap="round" fill="none"/>
<path d="M220.8 461.8v0M220.8 464.43v0M220.8 467.05v0M220.8 469.68v0M220.8 472.31v0M220.8 474.93v0M220.8 477.56v0M220.8 480.18v0M220.8 482.81v0M220.8 485.44v0M220.8 488.06v0M220.8 490.69v0M220.8 493.32v0M220.8 495.94v0M220.8 498.57v0M220.8 501.19v0M220.8 503.82v0M220.8 506.45v0M220.8 509.07v0M220.8 511.7v0" stroke="#254576" stroke-width="4.2" stroke-linecap="round" fill="none"/>
<path d="M228.69 455.1V507.8" stroke="#284b7f" stroke-width="3.3" stroke-linecap="round" fill="none"/>
<path d="M228.69 455.1v0M228.69 457.74v0M228.69 460.37v0M228.69 463v0M228.69 465.64v0M228.69 468.27v0M228.69 470.91v0M228.69 473.55v0M228.69 476.18v0M228.69 478.81v0M228.69 481.45v0M228.69 484.08v0M228.69 486.72v0M228.69 489.35v0M228.69 491.99v0M228.69 494.62v0M228.69 497.26v0M228.69 499.89v0M228.69 502.53v0M228.69 505.16v0M228.69 507.8v0" stroke="#284b7f" stroke-width="4.2" stroke-linecap="round" fill="none"/>
<path d="M236.58 433.2V448.9M236.58 455.1V508" stroke="#3b76a6" stroke-width="3.3" stroke-linecap="round" fill="none"/>
<path d="M236.58 433.2v0M236.58 435.82v0M236.58 438.43v0M236.58 441.05v0M236.58 443.67v0M236.58 446.28v0M236.58 448.9v0M236.58 455.1v0M236.58 457.75v0M236.58 460.39v0M236.58 463.04v0M236.58 465.68v0M236.58 468.33v0M236.58 470.97v0M236.58 473.62v0M236.58 476.26v0M236.58 478.91v0M236.58 481.55v0M236.58 484.19v0M236.58 486.84v0M236.58 489.49v0M236.58 492.13v0M236.58 494.77v0M236.58 497.42v0M236.58 500.06v0M236.58 502.71v0M236.58 505.36v0M236.58 508v0" stroke="#3b76a6" stroke-width="4.2" stroke-linecap="round" fill="none"/>
<path d="M244.47 442.8V442.81M244.47 448.9V506.5" stroke="#3b76a6" stroke-width="3.3" stroke-linecap="round" fill="none"/>
<path d="M244.47 442.8v0M244.47 442.8v0M244.47 448.9v0M244.47 451.52v0M244.47 454.14v0M244.47 456.75v0M244.47 459.37v0M244.47 461.99v0M244.47 464.61v0M244.47 467.23v0M244.47 469.85v0M244.47 472.46v0M244.47 475.08v0M244.47 477.7v0M244.47 480.32v0M244.47 482.94v0M244.47 485.55v0M244.47 488.17v0M244.47 490.79v0M244.47 493.41v0M244.47 496.03v0M244.47 498.65v0M244.47 501.26v0M244.47 503.88v0M244.47 506.5v0" stroke="#3b76a6" stroke-width="4.2" stroke-linecap="round" fill="none"/>
<path d="M252.36 436.1V438.6M252.36 448.9V502.3" stroke="#3b76a6" stroke-width="3.3" stroke-linecap="round" fill="none"/>
<path d="M252.36 436.1v0M252.36 438.6v0M252.36 448.9v0M252.36 451.44v0M252.36 453.99v0M252.36 456.53v0M252.36 459.07v0M252.36 461.61v0M252.36 464.16v0M252.36 466.7v0M252.36 469.24v0M252.36 471.79v0M252.36 474.33v0M252.36 476.87v0M252.36 479.41v0M252.36 481.96v0M252.36 484.5v0M252.36 487.04v0M252.36 489.59v0M252.36 492.13v0M252.36 494.67v0M252.36 497.21v0M252.36 499.76v0M252.36 502.3v0" stroke="#3b76a6" stroke-width="4.2" stroke-linecap="round" fill="none"/>
<path d="M260.25 444.7V505" stroke="#3b76a6" stroke-width="3.3" stroke-linecap="round" fill="none"/>
<path d="M260.25 444.7v0M260.25 447.32v0M260.25 449.94v0M260.25 452.57v0M260.25 455.19v0M260.25 457.81v0M260.25 460.43v0M260.25 463.05v0M260.25 465.67v0M260.25 468.3v0M260.25 470.92v0M260.25 473.54v0M260.25 476.16v0M260.25 478.78v0M260.25 481.4v0M260.25 484.03v0M260.25 486.65v0M260.25 489.27v0M260.25 491.89v0M260.25 494.51v0M260.25 497.13v0M260.25 499.76v0M260.25 502.38v0M260.25 505v0" stroke="#3b76a6" stroke-width="4.2" stroke-linecap="round" fill="none"/>
<path d="M268.14 431.9V431.91M268.14 437.4V496.5" stroke="#62a8c7" stroke-width="3.3" stroke-linecap="round" fill="none"/>
<path d="M268.14 431.9v0M268.14 431.9v0M268.14 437.4v0M268.14 439.97v0M268.14 442.54v0M268.14 445.11v0M268.14 447.68v0M268.14 450.25v0M268.14 452.82v0M268.14 455.39v0M268.14 457.96v0M268.14 460.53v0M268.14 463.1v0M268.14 465.67v0M268.14 468.23v0M268.14 470.8v0M268.14 473.37v0M268.14 475.94v0M268.14 478.51v0M268.14 481.08v0M268.14 483.65v0M268.14 486.22v0M268.14 488.79v0M268.14 491.36v0M268.14 493.93v0M268.14 496.5v0" stroke="#62a8c7" stroke-width="4.2" stroke-linecap="round" fill="none"/>
<path d="M276.03 415.9V500.6" stroke="#62a8c7" stroke-width="3.3" stroke-linecap="round" fill="none"/>
<path d="M276.03 415.9v0M276.03 418.47v0M276.03 421.03v0M276.03 423.6v0M276.03 426.17v0M276.03 428.73v0M276.03 431.3v0M276.03 433.87v0M276.03 436.43v0M276.03 439v0M276.03 441.57v0M276.03 444.13v0M276.03 446.7v0M276.03 449.27v0M276.03 451.83v0M276.03 454.4v0M276.03 456.97v0M276.03 459.53v0M276.03 462.1v0M276.03 464.67v0M276.03 467.23v0M276.03 469.8v0M276.03 472.37v0M276.03 474.93v0M276.03 477.5v0M276.03 480.07v0M276.03 482.63v0M276.03 485.2v0M276.03 487.77v0M276.03 490.33v0M276.03 492.9v0M276.03 495.47v0M276.03 498.03v0M276.03 500.6v0" stroke="#62a8c7" stroke-width="4.2" stroke-linecap="round" fill="none"/>
<path d="M283.92 422.1V489.4M283.92 494.9V503.9" stroke="#62a8c7" stroke-width="3.3" stroke-linecap="round" fill="none"/>
<path d="M283.92 422.1v0M283.92 424.69v0M283.92 427.28v0M283.92 429.87v0M283.92 432.45v0M283.92 435.04v0M283.92 437.63v0M283.92 440.22v0M283.92 442.81v0M283.92 445.4v0M283.92 447.98v0M283.92 450.57v0M283.92 453.16v0M283.92 455.75v0M283.92 458.34v0M283.92 460.93v0M283.92 463.52v0M283.92 466.1v0M283.92 468.69v0M283.92 471.28v0M283.92 473.87v0M283.92 476.46v0M283.92 479.05v0M283.92 481.63v0M283.92 484.22v0M283.92 486.81v0M283.92 489.4v0M283.92 494.9v0M283.92 497.9v0M283.92 500.9v0M283.92 503.9v0" stroke="#62a8c7" stroke-width="4.2" stroke-linecap="round" fill="none"/>
<path d="M291.81 416.5V501.4" stroke="#62a8c7" stroke-width="3.3" stroke-linecap="round" fill="none"/>
<path d="M291.81 416.5v0M291.81 419.07v0M291.81 421.65v0M291.81 424.22v0M291.81 426.79v0M291.81 429.36v0M291.81 431.94v0M291.81 434.51v0M291.81 437.08v0M291.81 439.65v0M291.81 442.23v0M291.81 444.8v0M291.81 447.37v0M291.81 449.95v0M291.81 452.52v0M291.81 455.09v0M291.81 457.66v0M291.81 460.24v0M291.81 462.81v0M291.81 465.38v0M291.81 467.95v0M291.81 470.53v0M291.81 473.1v0M291.81 475.67v0M291.81 478.25v0M291.81 480.82v0M291.81 483.39v0M291.81 485.96v0M291.81 488.54v0M291.81 491.11v0M291.81 493.68v0M291.81 496.25v0M291.81 498.83v0M291.81 501.4v0" stroke="#62a8c7" stroke-width="4.2" stroke-linecap="round" fill="none"/>
<path d="M299.7 410.1V410.6M299.7 417V481.1M299.7 486.7V490.2" stroke="#a5d8e1" stroke-width="3.3" stroke-linecap="round" fill="none"/>
<path d="M299.7 410.1v0M299.7 410.6v0M299.7 417v0M299.7 419.56v0M299.7 422.13v0M299.7 424.69v0M299.7 427.26v0M299.7 429.82v0M299.7 432.38v0M299.7 434.95v0M299.7 437.51v0M299.7 440.08v0M299.7 442.64v0M299.7 445.2v0M299.7 447.77v0M299.7 450.33v0M299.7 452.9v0M299.7 455.46v0M299.7 458.02v0M299.7 460.59v0M299.7 463.15v0M299.7 465.72v0M299.7 468.28v0M299.7 470.84v0M299.7 473.41v0M299.7 475.97v0M299.7 478.54v0M299.7 481.1v0M299.7 486.7v0M299.7 490.2v0" stroke="#a5d8e1" stroke-width="4.2" stroke-linecap="round" fill="none"/>
<path d="M307.59 415.3V455.6M307.59 460.9V467.2" stroke="#a5d8e1" stroke-width="3.3" stroke-linecap="round" fill="none"/>
<path d="M307.59 415.3v0M307.59 417.99v0M307.59 420.67v0M307.59 423.36v0M307.59 426.05v0M307.59 428.73v0M307.59 431.42v0M307.59 434.11v0M307.59 436.79v0M307.59 439.48v0M307.59 442.17v0M307.59 444.85v0M307.59 447.54v0M307.59 450.23v0M307.59 452.91v0M307.59 455.6v0M307.59 460.9v0M307.59 464.05v0M307.59 467.2v0" stroke="#a5d8e1" stroke-width="4.2" stroke-linecap="round" fill="none"/>
<path d="M315.48 407.6V471.7M315.48 481.4V486.6" stroke="#a5d8e1" stroke-width="3.3" stroke-linecap="round" fill="none"/>
<path d="M315.48 407.6v0M315.48 410.16v0M315.48 412.73v0M315.48 415.29v0M315.48 417.86v0M315.48 420.42v0M315.48 422.98v0M315.48 425.55v0M315.48 428.11v0M315.48 430.68v0M315.48 433.24v0M315.48 435.8v0M315.48 438.37v0M315.48 440.93v0M315.48 443.5v0M315.48 446.06v0M315.48 448.62v0M315.48 451.19v0M315.48 453.75v0M315.48 456.32v0M315.48 458.88v0M315.48 461.44v0M315.48 464.01v0M315.48 466.57v0M315.48 469.14v0M315.48 471.7v0M315.48 481.4v0M315.48 484v0M315.48 486.6v0" stroke="#a5d8e1" stroke-width="4.2" stroke-linecap="round" fill="none"/>
<path d="M323.37 403.5V444.5M323.37 455.4V465.6M323.37 473.4V473.41" stroke="#a5d8e1" stroke-width="3.3" stroke-linecap="round" fill="none"/>
<path d="M323.37 403.5v0M323.37 406.06v0M323.37 408.62v0M323.37 411.19v0M323.37 413.75v0M323.37 416.31v0M323.37 418.88v0M323.37 421.44v0M323.37 424v0M323.37 426.56v0M323.37 429.12v0M323.37 431.69v0M323.37 434.25v0M323.37 436.81v0M323.37 439.38v0M323.37 441.94v0M323.37 444.5v0M323.37 455.4v0M323.37 457.95v0M323.37 460.5v0M323.37 463.05v0M323.37 465.6v0M323.37 473.4v0M323.37 473.4v0" stroke="#a5d8e1" stroke-width="4.2" stroke-linecap="round" fill="none"/>
<path d="M331.26 393.5V395.6M331.26 402.6V449M331.26 455.7V455.71M331.26 464V464.01M331.26 472.3V472.31M331.26 477.8V477.81" stroke="#a5d8e1" stroke-width="3.3" stroke-linecap="round" fill="none"/>
<path d="M331.26 393.5v0M331.26 395.6v0M331.26 402.6v0M331.26 405.18v0M331.26 407.76v0M331.26 410.33v0M331.26 412.91v0M331.26 415.49v0M331.26 418.07v0M331.26 420.64v0M331.26 423.22v0M331.26 425.8v0M331.26 428.38v0M331.26 430.96v0M331.26 433.53v0M331.26 436.11v0M331.26 438.69v0M331.26 441.27v0M331.26 443.84v0M331.26 446.42v0M331.26 449v0M331.26 455.7v0M331.26 455.7v0M331.26 464v0M331.26 464v0M331.26 472.3v0M331.26 472.3v0M331.26 477.8v0M331.26 477.8v0" stroke="#a5d8e1" stroke-width="4.2" stroke-linecap="round" fill="none"/>
<path d="M339.15 390.2V416.1M339.15 421.1V429.6" stroke="#a5d8e1" stroke-width="3.3" stroke-linecap="round" fill="none"/>
<path d="M339.15 390.2v0M339.15 392.79v0M339.15 395.38v0M339.15 397.97v0M339.15 400.56v0M339.15 403.15v0M339.15 405.74v0M339.15 408.33v0M339.15 410.92v0M339.15 413.51v0M339.15 416.1v0M339.15 421.1v0M339.15 423.93v0M339.15 426.77v0M339.15 429.6v0" stroke="#a5d8e1" stroke-width="4.2" stroke-linecap="round" fill="none"/>
<path d="M347.04 392.6V399.5M347.04 405.7V408.6M347.04 413.7V425M347.04 430V430.01M347.04 439.1V440.7" stroke="#a5d8e1" stroke-width="3.3" stroke-linecap="round" fill="none"/>
<path d="M347.04 392.6v0M347.04 394.9v0M347.04 397.2v0M347.04 399.5v0M347.04 405.7v0M347.04 408.6v0M347.04 413.7v0M347.04 416.53v0M347.04 419.35v0M347.04 422.18v0M347.04 425v0M347.04 430v0M347.04 430v0M347.04 439.1v0M347.04 440.7v0" stroke="#a5d8e1" stroke-width="4.2" stroke-linecap="round" fill="none"/>
<line x1="220.5" y1="499.7" x2="347.4" y2="413.8" stroke="#ff0000" stroke-width="2.3"/>
<g fill="#262626" filter="url(#nolcd)"><text x="181.5" y="384.3">(h)</text><text x="284.3" y="380.8" text-anchor="middle">ViT_MLP</text><text x="213.4" y="394.4">R = 0.87</text><text x="213.4" y="404.5">RMSE = 10.85</text><text x="213.4" y="414.6">MAE = 8.42</text><text x="209.1" y="505.9" text-anchor="end">40</text><text x="209.1" y="476.37" text-anchor="end">60</text><text x="209.1" y="446.83" text-anchor="end">80</text><text x="209.1" y="417.3" text-anchor="end">100</text><text x="228.69" y="532" text-anchor="middle">40</text><text x="260.25" y="532" text-anchor="middle">60</text><text x="291.81" y="532" text-anchor="middle">80</text><text x="323.37" y="532" text-anchor="middle">100</text><text x="284" y="544.2" text-anchor="middle" style="font-size:10.5px">Best-track (kt)</text><text transform="translate(189 450.8) rotate(-90)" text-anchor="middle" style="font-size:10.5px">Estimation (kt)</text></g>
</svg>
</body></html>
